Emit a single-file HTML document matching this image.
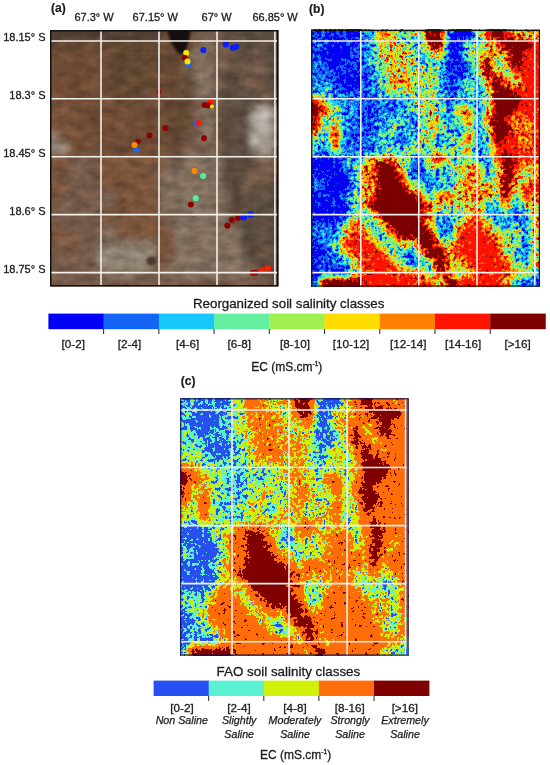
<!DOCTYPE html>
<html><head><meta charset="utf-8"><style>html,body{margin:0;padding:0;background:#fff;overflow:hidden}svg{display:block}</style></head>
<body><svg width="550" height="765" viewBox="0 0 550 765" font-family="Liberation Sans, Arial, sans-serif"><defs><clipPath id="clipA"><rect x="50" y="30" width="228.5" height="256.5"/></clipPath><filter id="blurA" x="-10%" y="-10%" width="120%" height="120%"><feGaussianBlur stdDeviation="3.5"/></filter><filter id="blurK" x="-50%" y="-50%" width="200%" height="200%"><feGaussianBlur stdDeviation="1.1"/></filter><filter id="texA" x="50" y="30" width="229" height="257" filterUnits="userSpaceOnUse" color-interpolation-filters="sRGB"><feTurbulence type="fractalNoise" baseFrequency="0.07 0.11" numOctaves="3" seed="11"/><feColorMatrix type="matrix" values="1 0 0 0 0 1 0 0 0 0 1 0 0 0 0 0 0 0 0 1"/></filter><filter id="fB" x="0" y="0" width="228.8" height="256.70000000000005" filterUnits="userSpaceOnUse" color-interpolation-filters="sRGB">
<feGaussianBlur in="SourceGraphic" stdDeviation="3.2" result="f"/>
<feColorMatrix in="f" type="matrix" values="1 0 0 0 0 1 0 0 0 0 1 0 0 0 0 0 0 0 0 1" result="V"/>
<feColorMatrix in="f" type="matrix" values="0 1 0 0 0 0 1 0 0 0 0 1 0 0 0 0 0 0 0 1" result="A"/>
<feTurbulence type="fractalNoise" baseFrequency="0.28" numOctaves="2" seed="4" result="t"/>
<feColorMatrix in="t" type="matrix" values="1 0 0 0 0 1 0 0 0 0 1 0 0 0 0 0 0 0 0 1" result="N"/>
<feComposite in="A" in2="N" operator="arithmetic" k1="1" k2="-0.5" k3="0" k4="0.5" result="P"/>
<feComposite in="V" in2="P" operator="arithmetic" k1="0" k2="1" k3="2.5" k4="-1.25" result="S"/>
<feComponentTransfer in="S"><feFuncR type="discrete" tableValues="0 0 0 0 0 0 0 0 0 0 0 0 0 0 0 0.078 0.078 0.078 0.078 0.078 0.078 0.078 0.078 0.078 0.078 0.078 0.078 0.078 0.078 0.078 0.078 0.078 0.078 0.078 0.078 0.392 0.392 0.392 0.392 0.392 0.392 0.392 0.392 0.392 0.392 0.627 0.627 0.627 0.627 0.627 0.627 0.627 0.627 0.627 0.627 1 1 1 1 1 1 1 1 1 1 1 1 1 1 1 1 1 1 1 1 1 1 1 1 1 1 1 1 1 1 0.49 0.49 0.49 0.49 0.49 0.49 0.49 0.49 0.49 0.49 0.49 0.49 0.49 0.49 0.49 0.49 0.49 0.49 0.49 0.49"/><feFuncG type="discrete" tableValues="0 0 0 0 0 0 0 0 0 0 0 0 0 0 0 0.392 0.392 0.392 0.392 0.392 0.392 0.392 0.392 0.392 0.392 0.784 0.784 0.784 0.784 0.784 0.784 0.784 0.784 0.784 0.784 0.941 0.941 0.941 0.941 0.941 0.941 0.941 0.941 0.941 0.941 0.941 0.941 0.941 0.941 0.941 0.941 0.941 0.941 0.941 0.941 0.863 0.863 0.863 0.863 0.863 0.863 0.863 0.863 0.863 0.863 0.502 0.502 0.502 0.502 0.502 0.502 0.502 0.502 0.502 0.502 0.078 0.078 0.078 0.078 0.078 0.078 0.078 0.078 0.078 0.078 0 0 0 0 0 0 0 0 0 0 0 0 0 0 0 0 0 0 0 0"/><feFuncB type="discrete" tableValues="0.961 0.961 0.961 0.961 0.961 0.961 0.961 0.961 0.961 0.961 0.961 0.961 0.961 0.961 0.961 0.961 0.961 0.961 0.961 0.961 0.961 0.961 0.961 0.961 0.961 0.98 0.98 0.98 0.98 0.98 0.98 0.98 0.98 0.98 0.98 0.627 0.627 0.627 0.627 0.627 0.627 0.627 0.627 0.627 0.627 0.314 0.314 0.314 0.314 0.314 0.314 0.314 0.314 0.314 0.314 0 0 0 0 0 0 0 0 0 0 0 0 0 0 0 0 0 0 0 0 0 0 0 0 0 0 0 0 0 0 0 0 0 0 0 0 0 0 0 0 0 0 0 0 0 0 0 0 0 0"/><feFuncA type="discrete" tableValues="1"/></feComponentTransfer>
</filter><filter id="fC" x="0" y="0" width="228.8" height="256.70000000000005" filterUnits="userSpaceOnUse" color-interpolation-filters="sRGB">
<feGaussianBlur in="SourceGraphic" stdDeviation="3.2" result="f"/>
<feColorMatrix in="f" type="matrix" values="1 0 0 0 0 1 0 0 0 0 1 0 0 0 0 0 0 0 0 1" result="V"/>
<feColorMatrix in="f" type="matrix" values="0 1 0 0 0 0 1 0 0 0 0 1 0 0 0 0 0 0 0 1" result="A"/>
<feTurbulence type="fractalNoise" baseFrequency="0.28" numOctaves="2" seed="4" result="t"/>
<feColorMatrix in="t" type="matrix" values="1 0 0 0 0 1 0 0 0 0 1 0 0 0 0 0 0 0 0 1" result="N"/>
<feComposite in="A" in2="N" operator="arithmetic" k1="1" k2="-0.5" k3="0" k4="0.5" result="P"/>
<feComposite in="V" in2="P" operator="arithmetic" k1="0" k2="1" k3="2.5" k4="-1.25" result="S"/>
<feComponentTransfer in="S"><feFuncR type="discrete" tableValues="0.157 0.157 0.157 0.157 0.157 0.157 0.157 0.157 0.157 0.157 0.157 0.157 0.157 0.157 0.157 0.353 0.353 0.353 0.353 0.353 0.353 0.353 0.353 0.353 0.353 0.824 0.824 0.824 0.824 0.824 0.824 0.824 0.824 0.824 0.824 0.824 0.824 0.824 0.824 0.824 0.824 0.824 0.824 0.824 0.824 1 1 1 1 1 1 1 1 1 1 1 1 1 1 1 1 1 1 1 1 1 1 1 1 1 1 1 1 1 1 1 1 1 1 1 1 1 1 1 1 0.502 0.502 0.502 0.502 0.502 0.502 0.502 0.502 0.502 0.502 0.502 0.502 0.502 0.502 0.502 0.502 0.502 0.502 0.502 0.502"/><feFuncG type="discrete" tableValues="0.314 0.314 0.314 0.314 0.314 0.314 0.314 0.314 0.314 0.314 0.314 0.314 0.314 0.314 0.314 0.941 0.941 0.941 0.941 0.941 0.941 0.941 0.941 0.941 0.941 0.941 0.941 0.941 0.941 0.941 0.941 0.941 0.941 0.941 0.941 0.941 0.941 0.941 0.941 0.941 0.941 0.941 0.941 0.941 0.941 0.431 0.431 0.431 0.431 0.431 0.431 0.431 0.431 0.431 0.431 0.431 0.431 0.431 0.431 0.431 0.431 0.431 0.431 0.431 0.431 0.431 0.431 0.431 0.431 0.431 0.431 0.431 0.431 0.431 0.431 0.431 0.431 0.431 0.431 0.431 0.431 0.431 0.431 0.431 0.431 0 0 0 0 0 0 0 0 0 0 0 0 0 0 0 0 0 0 0 0"/><feFuncB type="discrete" tableValues="0.941 0.941 0.941 0.941 0.941 0.941 0.941 0.941 0.941 0.941 0.941 0.941 0.941 0.941 0.941 0.824 0.824 0.824 0.824 0.824 0.824 0.824 0.824 0.824 0.824 0.039 0.039 0.039 0.039 0.039 0.039 0.039 0.039 0.039 0.039 0.039 0.039 0.039 0.039 0.039 0.039 0.039 0.039 0.039 0.039 0.039 0.039 0.039 0.039 0.039 0.039 0.039 0.039 0.039 0.039 0.039 0.039 0.039 0.039 0.039 0.039 0.039 0.039 0.039 0.039 0.039 0.039 0.039 0.039 0.039 0.039 0.039 0.039 0.039 0.039 0.039 0.039 0.039 0.039 0.039 0.039 0.039 0.039 0.039 0.039 0 0 0 0 0 0 0 0 0 0 0 0 0 0 0 0 0 0 0 0"/><feFuncA type="discrete" tableValues="1"/></feComponentTransfer>
</filter><g id="fld"><rect x="-14.00" y="-14.00" width="23.83" height="23.81" fill="#242b00"/><rect x="9.53" y="-14.00" width="9.83" height="23.81" fill="#242b00"/><rect x="19.07" y="-14.00" width="9.83" height="23.81" fill="#242b00"/><rect x="28.60" y="-14.00" width="9.83" height="23.81" fill="#242b00"/><rect x="38.13" y="-14.00" width="9.83" height="23.81" fill="#0f2800"/><rect x="47.67" y="-14.00" width="9.83" height="23.81" fill="#313400"/><rect x="57.20" y="-14.00" width="9.83" height="23.81" fill="#496700"/><rect x="66.73" y="-14.00" width="9.83" height="23.81" fill="#c12400"/><rect x="76.27" y="-14.00" width="9.83" height="23.81" fill="#927a00"/><rect x="85.80" y="-14.00" width="9.83" height="23.81" fill="#495d00"/><rect x="95.33" y="-14.00" width="9.83" height="23.81" fill="#797c00"/><rect x="104.87" y="-14.00" width="9.83" height="23.81" fill="#618000"/><rect x="114.40" y="-14.00" width="9.83" height="23.81" fill="#f33600"/><rect x="123.93" y="-14.00" width="9.83" height="23.81" fill="#f33f00"/><rect x="133.47" y="-14.00" width="9.83" height="23.81" fill="#244800"/><rect x="143.00" y="-14.00" width="9.83" height="23.81" fill="#0f2d00"/><rect x="152.53" y="-14.00" width="9.83" height="23.81" fill="#0f3100"/><rect x="162.07" y="-14.00" width="9.83" height="23.81" fill="#618000"/><rect x="171.60" y="-14.00" width="9.83" height="23.81" fill="#c12700"/><rect x="181.13" y="-14.00" width="9.83" height="23.81" fill="#f32900"/><rect x="190.67" y="-14.00" width="9.83" height="23.81" fill="#c11c00"/><rect x="200.20" y="-14.00" width="9.83" height="23.81" fill="#aa5d00"/><rect x="209.73" y="-14.00" width="9.83" height="23.81" fill="#927500"/><rect x="219.27" y="-14.00" width="23.83" height="23.81" fill="#aa5b00"/><rect x="-14.00" y="9.51" width="23.83" height="9.81" fill="#313000"/><rect x="9.53" y="9.51" width="9.83" height="9.81" fill="#242c00"/><rect x="19.07" y="9.51" width="9.83" height="9.81" fill="#0f2700"/><rect x="28.60" y="9.51" width="9.83" height="9.81" fill="#242c00"/><rect x="38.13" y="9.51" width="9.83" height="9.81" fill="#242d00"/><rect x="47.67" y="9.51" width="9.83" height="9.81" fill="#313300"/><rect x="57.20" y="9.51" width="9.83" height="9.81" fill="#496400"/><rect x="66.73" y="9.51" width="9.83" height="9.81" fill="#927a00"/><rect x="76.27" y="9.51" width="9.83" height="9.81" fill="#927700"/><rect x="85.80" y="9.51" width="9.83" height="9.81" fill="#797f00"/><rect x="95.33" y="9.51" width="9.83" height="9.81" fill="#495e00"/><rect x="104.87" y="9.51" width="9.83" height="9.81" fill="#496600"/><rect x="114.40" y="9.51" width="9.83" height="9.81" fill="#f33700"/><rect x="123.93" y="9.51" width="9.83" height="9.81" fill="#f33e00"/><rect x="133.47" y="9.51" width="9.83" height="9.81" fill="#0f4200"/><rect x="143.00" y="9.51" width="9.83" height="9.81" fill="#0f3100"/><rect x="152.53" y="9.51" width="9.83" height="9.81" fill="#617a00"/><rect x="162.07" y="9.51" width="9.83" height="9.81" fill="#496400"/><rect x="171.60" y="9.51" width="9.83" height="9.81" fill="#927b00"/><rect x="181.13" y="9.51" width="9.83" height="9.81" fill="#aa5b00"/><rect x="190.67" y="9.51" width="9.83" height="9.81" fill="#f32900"/><rect x="200.20" y="9.51" width="9.83" height="9.81" fill="#f32a00"/><rect x="209.73" y="9.51" width="9.83" height="9.81" fill="#f32900"/><rect x="219.27" y="9.51" width="23.83" height="9.81" fill="#c11c00"/><rect x="-14.00" y="19.01" width="23.83" height="9.81" fill="#242c00"/><rect x="9.53" y="19.01" width="9.83" height="9.81" fill="#0f2900"/><rect x="19.07" y="19.01" width="9.83" height="9.81" fill="#0f2700"/><rect x="28.60" y="19.01" width="9.83" height="9.81" fill="#0f2700"/><rect x="38.13" y="19.01" width="9.83" height="9.81" fill="#242c00"/><rect x="47.67" y="19.01" width="9.83" height="9.81" fill="#313300"/><rect x="57.20" y="19.01" width="9.83" height="9.81" fill="#496000"/><rect x="66.73" y="19.01" width="9.83" height="9.81" fill="#927700"/><rect x="76.27" y="19.01" width="9.83" height="9.81" fill="#927100"/><rect x="85.80" y="19.01" width="9.83" height="9.81" fill="#aa5c00"/><rect x="95.33" y="19.01" width="9.83" height="9.81" fill="#798000"/><rect x="104.87" y="19.01" width="9.83" height="9.81" fill="#496300"/><rect x="114.40" y="19.01" width="9.83" height="9.81" fill="#618000"/><rect x="123.93" y="19.01" width="9.83" height="9.81" fill="#aa6c00"/><rect x="133.47" y="19.01" width="9.83" height="9.81" fill="#244100"/><rect x="143.00" y="19.01" width="9.83" height="9.81" fill="#0f3100"/><rect x="152.53" y="19.01" width="9.83" height="9.81" fill="#798200"/><rect x="162.07" y="19.01" width="9.83" height="9.81" fill="#798500"/><rect x="171.60" y="19.01" width="9.83" height="9.81" fill="#aa6300"/><rect x="181.13" y="19.01" width="9.83" height="9.81" fill="#aa6100"/><rect x="190.67" y="19.01" width="9.83" height="9.81" fill="#aa6200"/><rect x="200.20" y="19.01" width="9.83" height="9.81" fill="#f32800"/><rect x="209.73" y="19.01" width="9.83" height="9.81" fill="#c11900"/><rect x="219.27" y="19.01" width="23.83" height="9.81" fill="#c11700"/><rect x="-14.00" y="28.52" width="23.83" height="9.81" fill="#313100"/><rect x="9.53" y="28.52" width="9.83" height="9.81" fill="#242d00"/><rect x="19.07" y="28.52" width="9.83" height="9.81" fill="#0f2800"/><rect x="28.60" y="28.52" width="9.83" height="9.81" fill="#242b00"/><rect x="38.13" y="28.52" width="9.83" height="9.81" fill="#242c00"/><rect x="47.67" y="28.52" width="9.83" height="9.81" fill="#313200"/><rect x="57.20" y="28.52" width="9.83" height="9.81" fill="#495f00"/><rect x="66.73" y="28.52" width="9.83" height="9.81" fill="#798100"/><rect x="76.27" y="28.52" width="9.83" height="9.81" fill="#927200"/><rect x="85.80" y="28.52" width="9.83" height="9.81" fill="#927100"/><rect x="95.33" y="28.52" width="9.83" height="9.81" fill="#797f00"/><rect x="104.87" y="28.52" width="9.83" height="9.81" fill="#495c00"/><rect x="114.40" y="28.52" width="9.83" height="9.81" fill="#495f00"/><rect x="123.93" y="28.52" width="9.83" height="9.81" fill="#617c00"/><rect x="133.47" y="28.52" width="9.83" height="9.81" fill="#0f3500"/><rect x="143.00" y="28.52" width="9.83" height="9.81" fill="#243300"/><rect x="152.53" y="28.52" width="9.83" height="9.81" fill="#313c00"/><rect x="162.07" y="28.52" width="9.83" height="9.81" fill="#798900"/><rect x="171.60" y="28.52" width="9.83" height="9.81" fill="#f33200"/><rect x="181.13" y="28.52" width="9.83" height="9.81" fill="#496300"/><rect x="190.67" y="28.52" width="9.83" height="9.81" fill="#aa6300"/><rect x="200.20" y="28.52" width="9.83" height="9.81" fill="#f32d00"/><rect x="209.73" y="28.52" width="9.83" height="9.81" fill="#c11800"/><rect x="219.27" y="28.52" width="23.83" height="9.81" fill="#c11500"/><rect x="-14.00" y="38.03" width="23.83" height="9.81" fill="#313000"/><rect x="9.53" y="38.03" width="9.83" height="9.81" fill="#313100"/><rect x="19.07" y="38.03" width="9.83" height="9.81" fill="#242d00"/><rect x="28.60" y="38.03" width="9.83" height="9.81" fill="#242b00"/><rect x="38.13" y="38.03" width="9.83" height="9.81" fill="#242c00"/><rect x="47.67" y="38.03" width="9.83" height="9.81" fill="#242e00"/><rect x="57.20" y="38.03" width="9.83" height="9.81" fill="#313700"/><rect x="66.73" y="38.03" width="9.83" height="9.81" fill="#617900"/><rect x="76.27" y="38.03" width="9.83" height="9.81" fill="#927500"/><rect x="85.80" y="38.03" width="9.83" height="9.81" fill="#927100"/><rect x="95.33" y="38.03" width="9.83" height="9.81" fill="#797d00"/><rect x="104.87" y="38.03" width="9.83" height="9.81" fill="#797d00"/><rect x="114.40" y="38.03" width="9.83" height="9.81" fill="#927500"/><rect x="123.93" y="38.03" width="9.83" height="9.81" fill="#496000"/><rect x="133.47" y="38.03" width="9.83" height="9.81" fill="#243200"/><rect x="143.00" y="38.03" width="9.83" height="9.81" fill="#0f2c00"/><rect x="152.53" y="38.03" width="9.83" height="9.81" fill="#313800"/><rect x="162.07" y="38.03" width="9.83" height="9.81" fill="#618200"/><rect x="171.60" y="38.03" width="9.83" height="9.81" fill="#f33600"/><rect x="181.13" y="38.03" width="9.83" height="9.81" fill="#aa6400"/><rect x="190.67" y="38.03" width="9.83" height="9.81" fill="#617c00"/><rect x="200.20" y="38.03" width="9.83" height="9.81" fill="#c12000"/><rect x="209.73" y="38.03" width="9.83" height="9.81" fill="#c11b00"/><rect x="219.27" y="38.03" width="23.83" height="9.81" fill="#c11500"/><rect x="-14.00" y="47.54" width="23.83" height="9.81" fill="#313100"/><rect x="9.53" y="47.54" width="9.83" height="9.81" fill="#3d4400"/><rect x="19.07" y="47.54" width="9.83" height="9.81" fill="#242f00"/><rect x="28.60" y="47.54" width="9.83" height="9.81" fill="#0f2900"/><rect x="38.13" y="47.54" width="9.83" height="9.81" fill="#0f2800"/><rect x="47.67" y="47.54" width="9.83" height="9.81" fill="#242d00"/><rect x="57.20" y="47.54" width="9.83" height="9.81" fill="#3d4800"/><rect x="66.73" y="47.54" width="9.83" height="9.81" fill="#617a00"/><rect x="76.27" y="47.54" width="9.83" height="9.81" fill="#aa5e00"/><rect x="85.80" y="47.54" width="9.83" height="9.81" fill="#aa5a00"/><rect x="95.33" y="47.54" width="9.83" height="9.81" fill="#927300"/><rect x="104.87" y="47.54" width="9.83" height="9.81" fill="#797900"/><rect x="114.40" y="47.54" width="9.83" height="9.81" fill="#797e00"/><rect x="123.93" y="47.54" width="9.83" height="9.81" fill="#496200"/><rect x="133.47" y="47.54" width="9.83" height="9.81" fill="#243000"/><rect x="143.00" y="47.54" width="9.83" height="9.81" fill="#313800"/><rect x="152.53" y="47.54" width="9.83" height="9.81" fill="#617600"/><rect x="162.07" y="47.54" width="9.83" height="9.81" fill="#314000"/><rect x="171.60" y="47.54" width="9.83" height="9.81" fill="#aa6a00"/><rect x="181.13" y="47.54" width="9.83" height="9.81" fill="#f33000"/><rect x="190.67" y="47.54" width="9.83" height="9.81" fill="#aa6000"/><rect x="200.20" y="47.54" width="9.83" height="9.81" fill="#927800"/><rect x="209.73" y="47.54" width="9.83" height="9.81" fill="#c11a00"/><rect x="219.27" y="47.54" width="23.83" height="9.81" fill="#c11500"/><rect x="-14.00" y="57.04" width="23.83" height="9.81" fill="#3d5500"/><rect x="9.53" y="57.04" width="9.83" height="9.81" fill="#496400"/><rect x="19.07" y="57.04" width="9.83" height="9.81" fill="#3d4900"/><rect x="28.60" y="57.04" width="9.83" height="9.81" fill="#242e00"/><rect x="38.13" y="57.04" width="9.83" height="9.81" fill="#242e00"/><rect x="47.67" y="57.04" width="9.83" height="9.81" fill="#313200"/><rect x="57.20" y="57.04" width="9.83" height="9.81" fill="#313400"/><rect x="66.73" y="57.04" width="9.83" height="9.81" fill="#496100"/><rect x="76.27" y="57.04" width="9.83" height="9.81" fill="#798400"/><rect x="85.80" y="57.04" width="9.83" height="9.81" fill="#798300"/><rect x="95.33" y="57.04" width="9.83" height="9.81" fill="#797e00"/><rect x="104.87" y="57.04" width="9.83" height="9.81" fill="#617200"/><rect x="114.40" y="57.04" width="9.83" height="9.81" fill="#927400"/><rect x="123.93" y="57.04" width="9.83" height="9.81" fill="#496000"/><rect x="133.47" y="57.04" width="9.83" height="9.81" fill="#242e00"/><rect x="143.00" y="57.04" width="9.83" height="9.81" fill="#313700"/><rect x="152.53" y="57.04" width="9.83" height="9.81" fill="#797d00"/><rect x="162.07" y="57.04" width="9.83" height="9.81" fill="#313b00"/><rect x="171.60" y="57.04" width="9.83" height="9.81" fill="#798c00"/><rect x="181.13" y="57.04" width="9.83" height="9.81" fill="#f32f00"/><rect x="190.67" y="57.04" width="9.83" height="9.81" fill="#f32a00"/><rect x="200.20" y="57.04" width="9.83" height="9.81" fill="#c11d00"/><rect x="209.73" y="57.04" width="9.83" height="9.81" fill="#c11b00"/><rect x="219.27" y="57.04" width="23.83" height="9.81" fill="#c11500"/><rect x="-14.00" y="66.55" width="23.83" height="9.81" fill="#ce3200"/><rect x="9.53" y="66.55" width="9.83" height="9.81" fill="#798b00"/><rect x="19.07" y="66.55" width="9.83" height="9.81" fill="#313f00"/><rect x="28.60" y="66.55" width="9.83" height="9.81" fill="#3d4900"/><rect x="38.13" y="66.55" width="9.83" height="9.81" fill="#3d4400"/><rect x="47.67" y="66.55" width="9.83" height="9.81" fill="#313100"/><rect x="57.20" y="66.55" width="9.83" height="9.81" fill="#242e00"/><rect x="66.73" y="66.55" width="9.83" height="9.81" fill="#3d4900"/><rect x="76.27" y="66.55" width="9.83" height="9.81" fill="#243400"/><rect x="85.80" y="66.55" width="9.83" height="9.81" fill="#3d4c00"/><rect x="95.33" y="66.55" width="9.83" height="9.81" fill="#617400"/><rect x="104.87" y="66.55" width="9.83" height="9.81" fill="#617400"/><rect x="114.40" y="66.55" width="9.83" height="9.81" fill="#797d00"/><rect x="123.93" y="66.55" width="9.83" height="9.81" fill="#496100"/><rect x="133.47" y="66.55" width="9.83" height="9.81" fill="#313b00"/><rect x="143.00" y="66.55" width="9.83" height="9.81" fill="#313f00"/><rect x="152.53" y="66.55" width="9.83" height="9.81" fill="#496400"/><rect x="162.07" y="66.55" width="9.83" height="9.81" fill="#313c00"/><rect x="171.60" y="66.55" width="9.83" height="9.81" fill="#798c00"/><rect x="181.13" y="66.55" width="9.83" height="9.81" fill="#f33100"/><rect x="190.67" y="66.55" width="9.83" height="9.81" fill="#f32500"/><rect x="200.20" y="66.55" width="9.83" height="9.81" fill="#f32500"/><rect x="209.73" y="66.55" width="9.83" height="9.81" fill="#c11700"/><rect x="219.27" y="66.55" width="23.83" height="9.81" fill="#c11500"/><rect x="-14.00" y="76.06" width="23.83" height="9.81" fill="#f33200"/><rect x="9.53" y="76.06" width="9.83" height="9.81" fill="#ce3000"/><rect x="19.07" y="76.06" width="9.83" height="9.81" fill="#798500"/><rect x="28.60" y="76.06" width="9.83" height="9.81" fill="#313700"/><rect x="38.13" y="76.06" width="9.83" height="9.81" fill="#3d4400"/><rect x="47.67" y="76.06" width="9.83" height="9.81" fill="#242d00"/><rect x="57.20" y="76.06" width="9.83" height="9.81" fill="#242d00"/><rect x="66.73" y="76.06" width="9.83" height="9.81" fill="#3d4500"/><rect x="76.27" y="76.06" width="9.83" height="9.81" fill="#242f00"/><rect x="85.80" y="76.06" width="9.83" height="9.81" fill="#3d4800"/><rect x="95.33" y="76.06" width="9.83" height="9.81" fill="#495b00"/><rect x="104.87" y="76.06" width="9.83" height="9.81" fill="#798000"/><rect x="114.40" y="76.06" width="9.83" height="9.81" fill="#927500"/><rect x="123.93" y="76.06" width="9.83" height="9.81" fill="#617900"/><rect x="133.47" y="76.06" width="9.83" height="9.81" fill="#313b00"/><rect x="143.00" y="76.06" width="9.83" height="9.81" fill="#aa6700"/><rect x="152.53" y="76.06" width="9.83" height="9.81" fill="#aa6700"/><rect x="162.07" y="76.06" width="9.83" height="9.81" fill="#314200"/><rect x="171.60" y="76.06" width="9.83" height="9.81" fill="#798d00"/><rect x="181.13" y="76.06" width="9.83" height="9.81" fill="#f32e00"/><rect x="190.67" y="76.06" width="9.83" height="9.81" fill="#f32700"/><rect x="200.20" y="76.06" width="9.83" height="9.81" fill="#c11b00"/><rect x="209.73" y="76.06" width="9.83" height="9.81" fill="#c11900"/><rect x="219.27" y="76.06" width="23.83" height="9.81" fill="#c11700"/><rect x="-14.00" y="85.57" width="23.83" height="9.81" fill="#ce2f00"/><rect x="9.53" y="85.57" width="9.83" height="9.81" fill="#496700"/><rect x="19.07" y="85.57" width="9.83" height="9.81" fill="#798800"/><rect x="28.60" y="85.57" width="9.83" height="9.81" fill="#3d5200"/><rect x="38.13" y="85.57" width="9.83" height="9.81" fill="#313100"/><rect x="47.67" y="85.57" width="9.83" height="9.81" fill="#242c00"/><rect x="57.20" y="85.57" width="9.83" height="9.81" fill="#313100"/><rect x="66.73" y="85.57" width="9.83" height="9.81" fill="#3d4900"/><rect x="76.27" y="85.57" width="9.83" height="9.81" fill="#495b00"/><rect x="85.80" y="85.57" width="9.83" height="9.81" fill="#617500"/><rect x="95.33" y="85.57" width="9.83" height="9.81" fill="#243200"/><rect x="104.87" y="85.57" width="9.83" height="9.81" fill="#496000"/><rect x="114.40" y="85.57" width="9.83" height="9.81" fill="#927400"/><rect x="123.93" y="85.57" width="9.83" height="9.81" fill="#798100"/><rect x="133.47" y="85.57" width="9.83" height="9.81" fill="#313b00"/><rect x="143.00" y="85.57" width="9.83" height="9.81" fill="#617f00"/><rect x="152.53" y="85.57" width="9.83" height="9.81" fill="#c12900"/><rect x="162.07" y="85.57" width="9.83" height="9.81" fill="#314100"/><rect x="171.60" y="85.57" width="9.83" height="9.81" fill="#c12e00"/><rect x="181.13" y="85.57" width="9.83" height="9.81" fill="#f32e00"/><rect x="190.67" y="85.57" width="9.83" height="9.81" fill="#c11c00"/><rect x="200.20" y="85.57" width="9.83" height="9.81" fill="#aa5a00"/><rect x="209.73" y="85.57" width="9.83" height="9.81" fill="#aa5700"/><rect x="219.27" y="85.57" width="23.83" height="9.81" fill="#c11800"/><rect x="-14.00" y="95.07" width="23.83" height="9.81" fill="#ce3100"/><rect x="9.53" y="95.07" width="9.83" height="9.81" fill="#496800"/><rect x="19.07" y="95.07" width="9.83" height="9.81" fill="#ce2f00"/><rect x="28.60" y="95.07" width="9.83" height="9.81" fill="#3d5600"/><rect x="38.13" y="95.07" width="9.83" height="9.81" fill="#313100"/><rect x="47.67" y="95.07" width="9.83" height="9.81" fill="#242c00"/><rect x="57.20" y="95.07" width="9.83" height="9.81" fill="#243000"/><rect x="66.73" y="95.07" width="9.83" height="9.81" fill="#3d4900"/><rect x="76.27" y="95.07" width="9.83" height="9.81" fill="#797d00"/><rect x="85.80" y="95.07" width="9.83" height="9.81" fill="#3d4900"/><rect x="95.33" y="95.07" width="9.83" height="9.81" fill="#495c00"/><rect x="104.87" y="95.07" width="9.83" height="9.81" fill="#617800"/><rect x="114.40" y="95.07" width="9.83" height="9.81" fill="#927600"/><rect x="123.93" y="95.07" width="9.83" height="9.81" fill="#798000"/><rect x="133.47" y="95.07" width="9.83" height="9.81" fill="#495d00"/><rect x="143.00" y="95.07" width="9.83" height="9.81" fill="#314000"/><rect x="152.53" y="95.07" width="9.83" height="9.81" fill="#928000"/><rect x="162.07" y="95.07" width="9.83" height="9.81" fill="#314200"/><rect x="171.60" y="95.07" width="9.83" height="9.81" fill="#798d00"/><rect x="181.13" y="95.07" width="9.83" height="9.81" fill="#f33000"/><rect x="190.67" y="95.07" width="9.83" height="9.81" fill="#f32800"/><rect x="200.20" y="95.07" width="9.83" height="9.81" fill="#aa5900"/><rect x="209.73" y="95.07" width="9.83" height="9.81" fill="#aa5700"/><rect x="219.27" y="95.07" width="23.83" height="9.81" fill="#c11900"/><rect x="-14.00" y="104.58" width="23.83" height="9.81" fill="#617f00"/><rect x="9.53" y="104.58" width="9.83" height="9.81" fill="#3d5600"/><rect x="19.07" y="104.58" width="9.83" height="9.81" fill="#ce3200"/><rect x="28.60" y="104.58" width="9.83" height="9.81" fill="#314500"/><rect x="38.13" y="104.58" width="9.83" height="9.81" fill="#242c00"/><rect x="47.67" y="104.58" width="9.83" height="9.81" fill="#313100"/><rect x="57.20" y="104.58" width="9.83" height="9.81" fill="#3d4700"/><rect x="66.73" y="104.58" width="9.83" height="9.81" fill="#617500"/><rect x="76.27" y="104.58" width="9.83" height="9.81" fill="#3d4900"/><rect x="85.80" y="104.58" width="9.83" height="9.81" fill="#243300"/><rect x="95.33" y="104.58" width="9.83" height="9.81" fill="#3d4a00"/><rect x="104.87" y="104.58" width="9.83" height="9.81" fill="#797d00"/><rect x="114.40" y="104.58" width="9.83" height="9.81" fill="#797e00"/><rect x="123.93" y="104.58" width="9.83" height="9.81" fill="#313700"/><rect x="133.47" y="104.58" width="9.83" height="9.81" fill="#617500"/><rect x="143.00" y="104.58" width="9.83" height="9.81" fill="#496200"/><rect x="152.53" y="104.58" width="9.83" height="9.81" fill="#c12700"/><rect x="162.07" y="104.58" width="9.83" height="9.81" fill="#313f00"/><rect x="171.60" y="104.58" width="9.83" height="9.81" fill="#618400"/><rect x="181.13" y="104.58" width="9.83" height="9.81" fill="#f33400"/><rect x="190.67" y="104.58" width="9.83" height="9.81" fill="#c11a00"/><rect x="200.20" y="104.58" width="9.83" height="9.81" fill="#c11a00"/><rect x="209.73" y="104.58" width="9.83" height="9.81" fill="#aa5700"/><rect x="219.27" y="104.58" width="23.83" height="9.81" fill="#c11900"/><rect x="-14.00" y="114.09" width="23.83" height="9.81" fill="#617600"/><rect x="9.53" y="114.09" width="9.83" height="9.81" fill="#314200"/><rect x="19.07" y="114.09" width="9.83" height="9.81" fill="#aa6800"/><rect x="28.60" y="114.09" width="9.83" height="9.81" fill="#314200"/><rect x="38.13" y="114.09" width="9.83" height="9.81" fill="#313200"/><rect x="47.67" y="114.09" width="9.83" height="9.81" fill="#243500"/><rect x="57.20" y="114.09" width="9.83" height="9.81" fill="#243900"/><rect x="66.73" y="114.09" width="9.83" height="9.81" fill="#3d5100"/><rect x="76.27" y="114.09" width="9.83" height="9.81" fill="#617c00"/><rect x="85.80" y="114.09" width="9.83" height="9.81" fill="#3d4e00"/><rect x="95.33" y="114.09" width="9.83" height="9.81" fill="#797f00"/><rect x="104.87" y="114.09" width="9.83" height="9.81" fill="#617800"/><rect x="114.40" y="114.09" width="9.83" height="9.81" fill="#617e00"/><rect x="123.93" y="114.09" width="9.83" height="9.81" fill="#496400"/><rect x="133.47" y="114.09" width="9.83" height="9.81" fill="#617c00"/><rect x="143.00" y="114.09" width="9.83" height="9.81" fill="#798100"/><rect x="152.53" y="114.09" width="9.83" height="9.81" fill="#927c00"/><rect x="162.07" y="114.09" width="9.83" height="9.81" fill="#313e00"/><rect x="171.60" y="114.09" width="9.83" height="9.81" fill="#496a00"/><rect x="181.13" y="114.09" width="9.83" height="9.81" fill="#c12a00"/><rect x="190.67" y="114.09" width="9.83" height="9.81" fill="#c11800"/><rect x="200.20" y="114.09" width="9.83" height="9.81" fill="#c11900"/><rect x="209.73" y="114.09" width="9.83" height="9.81" fill="#aa5600"/><rect x="219.27" y="114.09" width="23.83" height="9.81" fill="#c11800"/><rect x="-14.00" y="123.60" width="23.83" height="9.81" fill="#243300"/><rect x="9.53" y="123.60" width="9.83" height="9.81" fill="#0f3500"/><rect x="19.07" y="123.60" width="9.83" height="9.81" fill="#243800"/><rect x="28.60" y="123.60" width="9.83" height="9.81" fill="#3d4e00"/><rect x="38.13" y="123.60" width="9.83" height="9.81" fill="#496000"/><rect x="47.67" y="123.60" width="9.83" height="9.81" fill="#496600"/><rect x="57.20" y="123.60" width="9.83" height="9.81" fill="#928300"/><rect x="66.73" y="123.60" width="9.83" height="9.81" fill="#aa6900"/><rect x="76.27" y="123.60" width="9.83" height="9.81" fill="#aa6600"/><rect x="85.80" y="123.60" width="9.83" height="9.81" fill="#798600"/><rect x="95.33" y="123.60" width="9.83" height="9.81" fill="#496000"/><rect x="104.87" y="123.60" width="9.83" height="9.81" fill="#313d00"/><rect x="114.40" y="123.60" width="9.83" height="9.81" fill="#aa6700"/><rect x="123.93" y="123.60" width="9.83" height="9.81" fill="#f33100"/><rect x="133.47" y="123.60" width="9.83" height="9.81" fill="#617b00"/><rect x="143.00" y="123.60" width="9.83" height="9.81" fill="#495c00"/><rect x="152.53" y="123.60" width="9.83" height="9.81" fill="#798200"/><rect x="162.07" y="123.60" width="9.83" height="9.81" fill="#496400"/><rect x="171.60" y="123.60" width="9.83" height="9.81" fill="#314200"/><rect x="181.13" y="123.60" width="9.83" height="9.81" fill="#c12c00"/><rect x="190.67" y="123.60" width="9.83" height="9.81" fill="#f32a00"/><rect x="200.20" y="123.60" width="9.83" height="9.81" fill="#c11c00"/><rect x="209.73" y="123.60" width="9.83" height="9.81" fill="#c11a00"/><rect x="219.27" y="123.60" width="23.83" height="9.81" fill="#c11a00"/><rect x="-14.00" y="133.10" width="23.83" height="9.81" fill="#0f2700"/><rect x="9.53" y="133.10" width="9.83" height="9.81" fill="#0f2700"/><rect x="19.07" y="133.10" width="9.83" height="9.81" fill="#0f2a00"/><rect x="28.60" y="133.10" width="9.83" height="9.81" fill="#313400"/><rect x="38.13" y="133.10" width="9.83" height="9.81" fill="#496400"/><rect x="47.67" y="133.10" width="9.83" height="9.81" fill="#aa6500"/><rect x="57.20" y="133.10" width="9.83" height="9.81" fill="#c12300"/><rect x="66.73" y="133.10" width="9.83" height="9.81" fill="#f32a00"/><rect x="76.27" y="133.10" width="9.83" height="9.81" fill="#f32d00"/><rect x="85.80" y="133.10" width="9.83" height="9.81" fill="#928200"/><rect x="95.33" y="133.10" width="9.83" height="9.81" fill="#314000"/><rect x="104.87" y="133.10" width="9.83" height="9.81" fill="#0f3600"/><rect x="114.40" y="133.10" width="9.83" height="9.81" fill="#928200"/><rect x="123.93" y="133.10" width="9.83" height="9.81" fill="#496500"/><rect x="133.47" y="133.10" width="9.83" height="9.81" fill="#617b00"/><rect x="143.00" y="133.10" width="9.83" height="9.81" fill="#798000"/><rect x="152.53" y="133.10" width="9.83" height="9.81" fill="#aa6000"/><rect x="162.07" y="133.10" width="9.83" height="9.81" fill="#aa6600"/><rect x="171.60" y="133.10" width="9.83" height="9.81" fill="#314100"/><rect x="181.13" y="133.10" width="9.83" height="9.81" fill="#798d00"/><rect x="190.67" y="133.10" width="9.83" height="9.81" fill="#f32c00"/><rect x="200.20" y="133.10" width="9.83" height="9.81" fill="#c12200"/><rect x="209.73" y="133.10" width="9.83" height="9.81" fill="#927600"/><rect x="219.27" y="133.10" width="23.83" height="9.81" fill="#aa5d00"/><rect x="-14.00" y="142.61" width="23.83" height="9.81" fill="#242d00"/><rect x="9.53" y="142.61" width="9.83" height="9.81" fill="#242c00"/><rect x="19.07" y="142.61" width="9.83" height="9.81" fill="#0f2800"/><rect x="28.60" y="142.61" width="9.83" height="9.81" fill="#0f2b00"/><rect x="38.13" y="142.61" width="9.83" height="9.81" fill="#3d5400"/><rect x="47.67" y="142.61" width="9.83" height="9.81" fill="#aa6500"/><rect x="57.20" y="142.61" width="9.83" height="9.81" fill="#aa5c00"/><rect x="66.73" y="142.61" width="9.83" height="9.81" fill="#f32800"/><rect x="76.27" y="142.61" width="9.83" height="9.81" fill="#f32900"/><rect x="85.80" y="142.61" width="9.83" height="9.81" fill="#c12c00"/><rect x="95.33" y="142.61" width="9.83" height="9.81" fill="#314500"/><rect x="104.87" y="142.61" width="9.83" height="9.81" fill="#313c00"/><rect x="114.40" y="142.61" width="9.83" height="9.81" fill="#313900"/><rect x="123.93" y="142.61" width="9.83" height="9.81" fill="#495c00"/><rect x="133.47" y="142.61" width="9.83" height="9.81" fill="#495c00"/><rect x="143.00" y="142.61" width="9.83" height="9.81" fill="#798100"/><rect x="152.53" y="142.61" width="9.83" height="9.81" fill="#aa5a00"/><rect x="162.07" y="142.61" width="9.83" height="9.81" fill="#aa6400"/><rect x="171.60" y="142.61" width="9.83" height="9.81" fill="#313e00"/><rect x="181.13" y="142.61" width="9.83" height="9.81" fill="#928200"/><rect x="190.67" y="142.61" width="9.83" height="9.81" fill="#f32d00"/><rect x="200.20" y="142.61" width="9.83" height="9.81" fill="#aa6100"/><rect x="209.73" y="142.61" width="9.83" height="9.81" fill="#617600"/><rect x="219.27" y="142.61" width="23.83" height="9.81" fill="#aa5d00"/><rect x="-14.00" y="152.12" width="23.83" height="9.81" fill="#313000"/><rect x="9.53" y="152.12" width="9.83" height="9.81" fill="#242c00"/><rect x="19.07" y="152.12" width="9.83" height="9.81" fill="#0f2800"/><rect x="28.60" y="152.12" width="9.83" height="9.81" fill="#0f2d00"/><rect x="38.13" y="152.12" width="9.83" height="9.81" fill="#314000"/><rect x="47.67" y="152.12" width="9.83" height="9.81" fill="#927d00"/><rect x="57.20" y="152.12" width="9.83" height="9.81" fill="#aa5d00"/><rect x="66.73" y="152.12" width="9.83" height="9.81" fill="#f32800"/><rect x="76.27" y="152.12" width="9.83" height="9.81" fill="#f32400"/><rect x="85.80" y="152.12" width="9.83" height="9.81" fill="#f33400"/><rect x="95.33" y="152.12" width="9.83" height="9.81" fill="#928300"/><rect x="104.87" y="152.12" width="9.83" height="9.81" fill="#618200"/><rect x="114.40" y="152.12" width="9.83" height="9.81" fill="#314100"/><rect x="123.93" y="152.12" width="9.83" height="9.81" fill="#496600"/><rect x="133.47" y="152.12" width="9.83" height="9.81" fill="#496400"/><rect x="143.00" y="152.12" width="9.83" height="9.81" fill="#927a00"/><rect x="152.53" y="152.12" width="9.83" height="9.81" fill="#aa5900"/><rect x="162.07" y="152.12" width="9.83" height="9.81" fill="#aa6000"/><rect x="171.60" y="152.12" width="9.83" height="9.81" fill="#aa6000"/><rect x="181.13" y="152.12" width="9.83" height="9.81" fill="#927e00"/><rect x="190.67" y="152.12" width="9.83" height="9.81" fill="#f33100"/><rect x="200.20" y="152.12" width="9.83" height="9.81" fill="#927d00"/><rect x="209.73" y="152.12" width="9.83" height="9.81" fill="#c12300"/><rect x="219.27" y="152.12" width="23.83" height="9.81" fill="#c11f00"/><rect x="-14.00" y="161.63" width="23.83" height="9.81" fill="#0f2800"/><rect x="9.53" y="161.63" width="9.83" height="9.81" fill="#242c00"/><rect x="19.07" y="161.63" width="9.83" height="9.81" fill="#0f2800"/><rect x="28.60" y="161.63" width="9.83" height="9.81" fill="#313600"/><rect x="38.13" y="161.63" width="9.83" height="9.81" fill="#617d00"/><rect x="47.67" y="161.63" width="9.83" height="9.81" fill="#927e00"/><rect x="57.20" y="161.63" width="9.83" height="9.81" fill="#c12000"/><rect x="66.73" y="161.63" width="9.83" height="9.81" fill="#f32700"/><rect x="76.27" y="161.63" width="9.83" height="9.81" fill="#f32100"/><rect x="85.80" y="161.63" width="9.83" height="9.81" fill="#f32900"/><rect x="95.33" y="161.63" width="9.83" height="9.81" fill="#f32f00"/><rect x="104.87" y="161.63" width="9.83" height="9.81" fill="#c12a00"/><rect x="114.40" y="161.63" width="9.83" height="9.81" fill="#496700"/><rect x="123.93" y="161.63" width="9.83" height="9.81" fill="#c12700"/><rect x="133.47" y="161.63" width="9.83" height="9.81" fill="#c12300"/><rect x="143.00" y="161.63" width="9.83" height="9.81" fill="#927700"/><rect x="152.53" y="161.63" width="9.83" height="9.81" fill="#aa5900"/><rect x="162.07" y="161.63" width="9.83" height="9.81" fill="#aa6000"/><rect x="171.60" y="161.63" width="9.83" height="9.81" fill="#aa6200"/><rect x="181.13" y="161.63" width="9.83" height="9.81" fill="#798700"/><rect x="190.67" y="161.63" width="9.83" height="9.81" fill="#f33500"/><rect x="200.20" y="161.63" width="9.83" height="9.81" fill="#496700"/><rect x="209.73" y="161.63" width="9.83" height="9.81" fill="#c12600"/><rect x="219.27" y="161.63" width="23.83" height="9.81" fill="#aa5900"/><rect x="-14.00" y="171.13" width="23.83" height="9.81" fill="#242b00"/><rect x="9.53" y="171.13" width="9.83" height="9.81" fill="#0f2700"/><rect x="19.07" y="171.13" width="9.83" height="9.81" fill="#242c00"/><rect x="28.60" y="171.13" width="9.83" height="9.81" fill="#0f3100"/><rect x="38.13" y="171.13" width="9.83" height="9.81" fill="#496200"/><rect x="47.67" y="171.13" width="9.83" height="9.81" fill="#927c00"/><rect x="57.20" y="171.13" width="9.83" height="9.81" fill="#f33200"/><rect x="66.73" y="171.13" width="9.83" height="9.81" fill="#f32c00"/><rect x="76.27" y="171.13" width="9.83" height="9.81" fill="#f32100"/><rect x="85.80" y="171.13" width="9.83" height="9.81" fill="#f32100"/><rect x="95.33" y="171.13" width="9.83" height="9.81" fill="#f32500"/><rect x="104.87" y="171.13" width="9.83" height="9.81" fill="#f33000"/><rect x="114.40" y="171.13" width="9.83" height="9.81" fill="#aa6600"/><rect x="123.93" y="171.13" width="9.83" height="9.81" fill="#927e00"/><rect x="133.47" y="171.13" width="9.83" height="9.81" fill="#798400"/><rect x="143.00" y="171.13" width="9.83" height="9.81" fill="#798000"/><rect x="152.53" y="171.13" width="9.83" height="9.81" fill="#927500"/><rect x="162.07" y="171.13" width="9.83" height="9.81" fill="#aa6300"/><rect x="171.60" y="171.13" width="9.83" height="9.81" fill="#314100"/><rect x="181.13" y="171.13" width="9.83" height="9.81" fill="#496700"/><rect x="190.67" y="171.13" width="9.83" height="9.81" fill="#aa6800"/><rect x="200.20" y="171.13" width="9.83" height="9.81" fill="#314500"/><rect x="209.73" y="171.13" width="9.83" height="9.81" fill="#928100"/><rect x="219.27" y="171.13" width="23.83" height="9.81" fill="#aa6000"/><rect x="-14.00" y="180.64" width="23.83" height="9.81" fill="#0f2900"/><rect x="9.53" y="180.64" width="9.83" height="9.81" fill="#0f2800"/><rect x="19.07" y="180.64" width="9.83" height="9.81" fill="#0f2d00"/><rect x="28.60" y="180.64" width="9.83" height="9.81" fill="#0f3800"/><rect x="38.13" y="180.64" width="9.83" height="9.81" fill="#798700"/><rect x="47.67" y="180.64" width="9.83" height="9.81" fill="#496400"/><rect x="57.20" y="180.64" width="9.83" height="9.81" fill="#798700"/><rect x="66.73" y="180.64" width="9.83" height="9.81" fill="#f33300"/><rect x="76.27" y="180.64" width="9.83" height="9.81" fill="#f32600"/><rect x="85.80" y="180.64" width="9.83" height="9.81" fill="#f32100"/><rect x="95.33" y="180.64" width="9.83" height="9.81" fill="#f32400"/><rect x="104.87" y="180.64" width="9.83" height="9.81" fill="#c11e00"/><rect x="114.40" y="180.64" width="9.83" height="9.81" fill="#aa6800"/><rect x="123.93" y="180.64" width="9.83" height="9.81" fill="#313f00"/><rect x="133.47" y="180.64" width="9.83" height="9.81" fill="#496000"/><rect x="143.00" y="180.64" width="9.83" height="9.81" fill="#617a00"/><rect x="152.53" y="180.64" width="9.83" height="9.81" fill="#927700"/><rect x="162.07" y="180.64" width="9.83" height="9.81" fill="#c12600"/><rect x="171.60" y="180.64" width="9.83" height="9.81" fill="#496800"/><rect x="181.13" y="180.64" width="9.83" height="9.81" fill="#313d00"/><rect x="190.67" y="180.64" width="9.83" height="9.81" fill="#496100"/><rect x="200.20" y="180.64" width="9.83" height="9.81" fill="#0f3500"/><rect x="209.73" y="180.64" width="9.83" height="9.81" fill="#314100"/><rect x="219.27" y="180.64" width="23.83" height="9.81" fill="#927c00"/><rect x="-14.00" y="190.15" width="23.83" height="9.81" fill="#313200"/><rect x="9.53" y="190.15" width="9.83" height="9.81" fill="#242e00"/><rect x="19.07" y="190.15" width="9.83" height="9.81" fill="#243700"/><rect x="28.60" y="190.15" width="9.83" height="9.81" fill="#618200"/><rect x="38.13" y="190.15" width="9.83" height="9.81" fill="#c12800"/><rect x="47.67" y="190.15" width="9.83" height="9.81" fill="#927c00"/><rect x="57.20" y="190.15" width="9.83" height="9.81" fill="#496500"/><rect x="66.73" y="190.15" width="9.83" height="9.81" fill="#aa6700"/><rect x="76.27" y="190.15" width="9.83" height="9.81" fill="#f33100"/><rect x="85.80" y="190.15" width="9.83" height="9.81" fill="#f32600"/><rect x="95.33" y="190.15" width="9.83" height="9.81" fill="#f32400"/><rect x="104.87" y="190.15" width="9.83" height="9.81" fill="#f32a00"/><rect x="114.40" y="190.15" width="9.83" height="9.81" fill="#928400"/><rect x="123.93" y="190.15" width="9.83" height="9.81" fill="#314200"/><rect x="133.47" y="190.15" width="9.83" height="9.81" fill="#313e00"/><rect x="143.00" y="190.15" width="9.83" height="9.81" fill="#928000"/><rect x="152.53" y="190.15" width="9.83" height="9.81" fill="#c12000"/><rect x="162.07" y="190.15" width="9.83" height="9.81" fill="#c12200"/><rect x="171.60" y="190.15" width="9.83" height="9.81" fill="#aa6700"/><rect x="181.13" y="190.15" width="9.83" height="9.81" fill="#496500"/><rect x="190.67" y="190.15" width="9.83" height="9.81" fill="#313c00"/><rect x="200.20" y="190.15" width="9.83" height="9.81" fill="#617600"/><rect x="209.73" y="190.15" width="9.83" height="9.81" fill="#314000"/><rect x="219.27" y="190.15" width="23.83" height="9.81" fill="#aa6600"/><rect x="-14.00" y="199.66" width="23.83" height="9.81" fill="#313000"/><rect x="9.53" y="199.66" width="9.83" height="9.81" fill="#3d4600"/><rect x="19.07" y="199.66" width="9.83" height="9.81" fill="#313f00"/><rect x="28.60" y="199.66" width="9.83" height="9.81" fill="#928100"/><rect x="38.13" y="199.66" width="9.83" height="9.81" fill="#c12000"/><rect x="47.67" y="199.66" width="9.83" height="9.81" fill="#c12400"/><rect x="57.20" y="199.66" width="9.83" height="9.81" fill="#617d00"/><rect x="66.73" y="199.66" width="9.83" height="9.81" fill="#496600"/><rect x="76.27" y="199.66" width="9.83" height="9.81" fill="#aa6700"/><rect x="85.80" y="199.66" width="9.83" height="9.81" fill="#f33200"/><rect x="95.33" y="199.66" width="9.83" height="9.81" fill="#f32c00"/><rect x="104.87" y="199.66" width="9.83" height="9.81" fill="#f32d00"/><rect x="114.40" y="199.66" width="9.83" height="9.81" fill="#f33700"/><rect x="123.93" y="199.66" width="9.83" height="9.81" fill="#496a00"/><rect x="133.47" y="199.66" width="9.83" height="9.81" fill="#314200"/><rect x="143.00" y="199.66" width="9.83" height="9.81" fill="#c12900"/><rect x="152.53" y="199.66" width="9.83" height="9.81" fill="#c11a00"/><rect x="162.07" y="199.66" width="9.83" height="9.81" fill="#c11700"/><rect x="171.60" y="199.66" width="9.83" height="9.81" fill="#c12200"/><rect x="181.13" y="199.66" width="9.83" height="9.81" fill="#aa6600"/><rect x="190.67" y="199.66" width="9.83" height="9.81" fill="#617b00"/><rect x="200.20" y="199.66" width="9.83" height="9.81" fill="#797f00"/><rect x="209.73" y="199.66" width="9.83" height="9.81" fill="#313e00"/><rect x="219.27" y="199.66" width="23.83" height="9.81" fill="#aa6600"/><rect x="-14.00" y="209.16" width="23.83" height="9.81" fill="#242d00"/><rect x="9.53" y="209.16" width="9.83" height="9.81" fill="#313400"/><rect x="19.07" y="209.16" width="9.83" height="9.81" fill="#617e00"/><rect x="28.60" y="209.16" width="9.83" height="9.81" fill="#c12900"/><rect x="38.13" y="209.16" width="9.83" height="9.81" fill="#c11e00"/><rect x="47.67" y="209.16" width="9.83" height="9.81" fill="#c11f00"/><rect x="57.20" y="209.16" width="9.83" height="9.81" fill="#c12600"/><rect x="66.73" y="209.16" width="9.83" height="9.81" fill="#617d00"/><rect x="76.27" y="209.16" width="9.83" height="9.81" fill="#496600"/><rect x="85.80" y="209.16" width="9.83" height="9.81" fill="#aa6800"/><rect x="95.33" y="209.16" width="9.83" height="9.81" fill="#798a00"/><rect x="104.87" y="209.16" width="9.83" height="9.81" fill="#f33500"/><rect x="114.40" y="209.16" width="9.83" height="9.81" fill="#f33200"/><rect x="123.93" y="209.16" width="9.83" height="9.81" fill="#aa6800"/><rect x="133.47" y="209.16" width="9.83" height="9.81" fill="#798700"/><rect x="143.00" y="209.16" width="9.83" height="9.81" fill="#c12500"/><rect x="152.53" y="209.16" width="9.83" height="9.81" fill="#c11500"/><rect x="162.07" y="209.16" width="9.83" height="9.81" fill="#c11500"/><rect x="171.60" y="209.16" width="9.83" height="9.81" fill="#c11700"/><rect x="181.13" y="209.16" width="9.83" height="9.81" fill="#c12200"/><rect x="190.67" y="209.16" width="9.83" height="9.81" fill="#617a00"/><rect x="200.20" y="209.16" width="9.83" height="9.81" fill="#798000"/><rect x="209.73" y="209.16" width="9.83" height="9.81" fill="#313d00"/><rect x="219.27" y="209.16" width="23.83" height="9.81" fill="#927d00"/><rect x="-14.00" y="218.67" width="23.83" height="9.81" fill="#0f2800"/><rect x="9.53" y="218.67" width="9.83" height="9.81" fill="#243000"/><rect x="19.07" y="218.67" width="9.83" height="9.81" fill="#313f00"/><rect x="28.60" y="218.67" width="9.83" height="9.81" fill="#798900"/><rect x="38.13" y="218.67" width="9.83" height="9.81" fill="#c12500"/><rect x="47.67" y="218.67" width="9.83" height="9.81" fill="#c11a00"/><rect x="57.20" y="218.67" width="9.83" height="9.81" fill="#c11f00"/><rect x="66.73" y="218.67" width="9.83" height="9.81" fill="#c12600"/><rect x="76.27" y="218.67" width="9.83" height="9.81" fill="#617d00"/><rect x="85.80" y="218.67" width="9.83" height="9.81" fill="#496500"/><rect x="95.33" y="218.67" width="9.83" height="9.81" fill="#314200"/><rect x="104.87" y="218.67" width="9.83" height="9.81" fill="#928500"/><rect x="114.40" y="218.67" width="9.83" height="9.81" fill="#f33500"/><rect x="123.93" y="218.67" width="9.83" height="9.81" fill="#f32e00"/><rect x="133.47" y="218.67" width="9.83" height="9.81" fill="#aa5d00"/><rect x="143.00" y="218.67" width="9.83" height="9.81" fill="#c11d00"/><rect x="152.53" y="218.67" width="9.83" height="9.81" fill="#c11a00"/><rect x="162.07" y="218.67" width="9.83" height="9.81" fill="#c11500"/><rect x="171.60" y="218.67" width="9.83" height="9.81" fill="#c11500"/><rect x="181.13" y="218.67" width="9.83" height="9.81" fill="#c12000"/><rect x="190.67" y="218.67" width="9.83" height="9.81" fill="#927d00"/><rect x="200.20" y="218.67" width="9.83" height="9.81" fill="#496300"/><rect x="209.73" y="218.67" width="9.83" height="9.81" fill="#313c00"/><rect x="219.27" y="218.67" width="23.83" height="9.81" fill="#798400"/><rect x="-14.00" y="228.18" width="23.83" height="9.81" fill="#242c00"/><rect x="9.53" y="228.18" width="9.83" height="9.81" fill="#313100"/><rect x="19.07" y="228.18" width="9.83" height="9.81" fill="#313700"/><rect x="28.60" y="228.18" width="9.83" height="9.81" fill="#314100"/><rect x="38.13" y="228.18" width="9.83" height="9.81" fill="#928100"/><rect x="47.67" y="228.18" width="9.83" height="9.81" fill="#c12000"/><rect x="57.20" y="228.18" width="9.83" height="9.81" fill="#c11500"/><rect x="66.73" y="228.18" width="9.83" height="9.81" fill="#c11f00"/><rect x="76.27" y="228.18" width="9.83" height="9.81" fill="#c12600"/><rect x="85.80" y="228.18" width="9.83" height="9.81" fill="#618300"/><rect x="95.33" y="228.18" width="9.83" height="9.81" fill="#0f3b00"/><rect x="104.87" y="228.18" width="9.83" height="9.81" fill="#314400"/><rect x="114.40" y="228.18" width="9.83" height="9.81" fill="#798a00"/><rect x="123.93" y="228.18" width="9.83" height="9.81" fill="#f33200"/><rect x="133.47" y="228.18" width="9.83" height="9.81" fill="#aa6200"/><rect x="143.00" y="228.18" width="9.83" height="9.81" fill="#927800"/><rect x="152.53" y="228.18" width="9.83" height="9.81" fill="#c12200"/><rect x="162.07" y="228.18" width="9.83" height="9.81" fill="#c11700"/><rect x="171.60" y="228.18" width="9.83" height="9.81" fill="#c11500"/><rect x="181.13" y="228.18" width="9.83" height="9.81" fill="#c11a00"/><rect x="190.67" y="228.18" width="9.83" height="9.81" fill="#c12500"/><rect x="200.20" y="228.18" width="9.83" height="9.81" fill="#496600"/><rect x="209.73" y="228.18" width="9.83" height="9.81" fill="#496200"/><rect x="219.27" y="228.18" width="23.83" height="9.81" fill="#aa6200"/><rect x="-14.00" y="237.69" width="23.83" height="9.81" fill="#0f3900"/><rect x="9.53" y="237.69" width="9.83" height="9.81" fill="#244300"/><rect x="19.07" y="237.69" width="9.83" height="9.81" fill="#0f4300"/><rect x="28.60" y="237.69" width="9.83" height="9.81" fill="#0f4100"/><rect x="38.13" y="237.69" width="9.83" height="9.81" fill="#618400"/><rect x="47.67" y="237.69" width="9.83" height="9.81" fill="#c12100"/><rect x="57.20" y="237.69" width="9.83" height="9.81" fill="#c11600"/><rect x="66.73" y="237.69" width="9.83" height="9.81" fill="#c11500"/><rect x="76.27" y="237.69" width="9.83" height="9.81" fill="#c11f00"/><rect x="85.80" y="237.69" width="9.83" height="9.81" fill="#c12900"/><rect x="95.33" y="237.69" width="9.83" height="9.81" fill="#c12b00"/><rect x="104.87" y="237.69" width="9.83" height="9.81" fill="#aa6a00"/><rect x="114.40" y="237.69" width="9.83" height="9.81" fill="#496700"/><rect x="123.93" y="237.69" width="9.83" height="9.81" fill="#f33200"/><rect x="133.47" y="237.69" width="9.83" height="9.81" fill="#aa6300"/><rect x="143.00" y="237.69" width="9.83" height="9.81" fill="#496100"/><rect x="152.53" y="237.69" width="9.83" height="9.81" fill="#aa6000"/><rect x="162.07" y="237.69" width="9.83" height="9.81" fill="#c11700"/><rect x="171.60" y="237.69" width="9.83" height="9.81" fill="#c11500"/><rect x="181.13" y="237.69" width="9.83" height="9.81" fill="#c11700"/><rect x="190.67" y="237.69" width="9.83" height="9.81" fill="#c12500"/><rect x="200.20" y="237.69" width="9.83" height="9.81" fill="#aa6600"/><rect x="209.73" y="237.69" width="9.83" height="9.81" fill="#927c00"/><rect x="219.27" y="237.69" width="23.83" height="9.81" fill="#496400"/><rect x="-14.00" y="247.19" width="23.83" height="23.81" fill="#314700"/><rect x="9.53" y="247.19" width="9.83" height="23.81" fill="#f34000"/><rect x="19.07" y="247.19" width="9.83" height="23.81" fill="#f34000"/><rect x="28.60" y="247.19" width="9.83" height="23.81" fill="#f33d00"/><rect x="38.13" y="247.19" width="9.83" height="23.81" fill="#f33800"/><rect x="47.67" y="247.19" width="9.83" height="23.81" fill="#ce2700"/><rect x="57.20" y="247.19" width="9.83" height="23.81" fill="#c11600"/><rect x="66.73" y="247.19" width="9.83" height="23.81" fill="#c11500"/><rect x="76.27" y="247.19" width="9.83" height="23.81" fill="#c11500"/><rect x="85.80" y="247.19" width="9.83" height="23.81" fill="#c11500"/><rect x="95.33" y="247.19" width="9.83" height="23.81" fill="#c11700"/><rect x="104.87" y="247.19" width="9.83" height="23.81" fill="#c12200"/><rect x="114.40" y="247.19" width="9.83" height="23.81" fill="#c12400"/><rect x="123.93" y="247.19" width="9.83" height="23.81" fill="#798500"/><rect x="133.47" y="247.19" width="9.83" height="23.81" fill="#f33200"/><rect x="143.00" y="247.19" width="9.83" height="23.81" fill="#c12300"/><rect x="152.53" y="247.19" width="9.83" height="23.81" fill="#c12200"/><rect x="162.07" y="247.19" width="9.83" height="23.81" fill="#c11700"/><rect x="171.60" y="247.19" width="9.83" height="23.81" fill="#c11500"/><rect x="181.13" y="247.19" width="9.83" height="23.81" fill="#c11800"/><rect x="190.67" y="247.19" width="9.83" height="23.81" fill="#aa6300"/><rect x="200.20" y="247.19" width="9.83" height="23.81" fill="#496600"/><rect x="209.73" y="247.19" width="9.83" height="23.81" fill="#313c00"/><rect x="219.27" y="247.19" width="23.83" height="23.81" fill="#313800"/></g></defs><g clip-path="url(#clipA)"><g filter="url(#blurA)"><rect x="38.0" y="18.0" width="22.0" height="22.0" fill="rgb(80,62,48)"/><rect x="59.5" y="18.0" width="10.0" height="22.0" fill="rgb(80,62,48)"/><rect x="69.0" y="18.0" width="10.0" height="22.0" fill="rgb(80,62,48)"/><rect x="78.6" y="18.0" width="10.0" height="22.0" fill="rgb(80,62,48)"/><rect x="88.1" y="18.0" width="10.0" height="22.0" fill="rgb(80,62,48)"/><rect x="97.6" y="18.0" width="10.0" height="22.0" fill="rgb(80,62,48)"/><rect x="107.1" y="18.0" width="10.0" height="22.0" fill="rgb(80,62,48)"/><rect x="116.6" y="18.0" width="10.0" height="22.0" fill="rgb(80,62,48)"/><rect x="126.2" y="18.0" width="10.0" height="22.0" fill="rgb(80,62,48)"/><rect x="135.7" y="18.0" width="10.0" height="22.0" fill="rgb(80,62,48)"/><rect x="145.2" y="18.0" width="10.0" height="22.0" fill="rgb(80,62,48)"/><rect x="154.7" y="18.0" width="10.0" height="22.0" fill="rgb(80,62,48)"/><rect x="164.2" y="18.0" width="10.0" height="22.0" fill="rgb(98,70,50)"/><rect x="173.8" y="18.0" width="10.0" height="22.0" fill="rgb(98,70,50)"/><rect x="183.3" y="18.0" width="10.0" height="22.0" fill="rgb(98,70,50)"/><rect x="192.8" y="18.0" width="10.0" height="22.0" fill="rgb(116,90,72)"/><rect x="202.3" y="18.0" width="10.0" height="22.0" fill="rgb(116,90,72)"/><rect x="211.9" y="18.0" width="10.0" height="22.0" fill="rgb(116,90,72)"/><rect x="221.4" y="18.0" width="10.0" height="22.0" fill="rgb(90,75,62)"/><rect x="230.9" y="18.0" width="10.0" height="22.0" fill="rgb(90,75,62)"/><rect x="240.4" y="18.0" width="10.0" height="22.0" fill="rgb(90,75,62)"/><rect x="249.9" y="18.0" width="10.0" height="22.0" fill="rgb(90,75,62)"/><rect x="259.5" y="18.0" width="10.0" height="22.0" fill="rgb(90,75,62)"/><rect x="269.0" y="18.0" width="22.0" height="22.0" fill="rgb(90,75,62)"/><rect x="38.0" y="39.5" width="22.0" height="10.0" fill="rgb(98,70,50)"/><rect x="59.5" y="39.5" width="10.0" height="10.0" fill="rgb(98,70,50)"/><rect x="69.0" y="39.5" width="10.0" height="10.0" fill="rgb(98,70,50)"/><rect x="78.6" y="39.5" width="10.0" height="10.0" fill="rgb(98,70,50)"/><rect x="88.1" y="39.5" width="10.0" height="10.0" fill="rgb(98,70,50)"/><rect x="97.6" y="39.5" width="10.0" height="10.0" fill="rgb(98,70,50)"/><rect x="107.1" y="39.5" width="10.0" height="10.0" fill="rgb(98,70,50)"/><rect x="116.6" y="39.5" width="10.0" height="10.0" fill="rgb(98,70,50)"/><rect x="126.2" y="39.5" width="10.0" height="10.0" fill="rgb(98,70,50)"/><rect x="135.7" y="39.5" width="10.0" height="10.0" fill="rgb(98,70,50)"/><rect x="145.2" y="39.5" width="10.0" height="10.0" fill="rgb(98,70,50)"/><rect x="154.7" y="39.5" width="10.0" height="10.0" fill="rgb(98,70,50)"/><rect x="164.2" y="39.5" width="10.0" height="10.0" fill="rgb(98,70,50)"/><rect x="173.8" y="39.5" width="10.0" height="10.0" fill="rgb(98,70,50)"/><rect x="183.3" y="39.5" width="10.0" height="10.0" fill="rgb(98,70,50)"/><rect x="192.8" y="39.5" width="10.0" height="10.0" fill="rgb(116,90,72)"/><rect x="202.3" y="39.5" width="10.0" height="10.0" fill="rgb(128,110,93)"/><rect x="211.9" y="39.5" width="10.0" height="10.0" fill="rgb(116,90,72)"/><rect x="221.4" y="39.5" width="10.0" height="10.0" fill="rgb(116,90,72)"/><rect x="230.9" y="39.5" width="10.0" height="10.0" fill="rgb(90,75,62)"/><rect x="240.4" y="39.5" width="10.0" height="10.0" fill="rgb(90,75,62)"/><rect x="249.9" y="39.5" width="10.0" height="10.0" fill="rgb(90,75,62)"/><rect x="259.5" y="39.5" width="10.0" height="10.0" fill="rgb(90,75,62)"/><rect x="269.0" y="39.5" width="22.0" height="10.0" fill="rgb(90,75,62)"/><rect x="38.0" y="49.0" width="22.0" height="10.0" fill="rgb(110,76,54)"/><rect x="59.5" y="49.0" width="10.0" height="10.0" fill="rgb(110,76,54)"/><rect x="69.0" y="49.0" width="10.0" height="10.0" fill="rgb(110,76,54)"/><rect x="78.6" y="49.0" width="10.0" height="10.0" fill="rgb(110,76,54)"/><rect x="88.1" y="49.0" width="10.0" height="10.0" fill="rgb(110,76,54)"/><rect x="97.6" y="49.0" width="10.0" height="10.0" fill="rgb(110,76,54)"/><rect x="107.1" y="49.0" width="10.0" height="10.0" fill="rgb(98,70,50)"/><rect x="116.6" y="49.0" width="10.0" height="10.0" fill="rgb(98,70,50)"/><rect x="126.2" y="49.0" width="10.0" height="10.0" fill="rgb(98,70,50)"/><rect x="135.7" y="49.0" width="10.0" height="10.0" fill="rgb(98,70,50)"/><rect x="145.2" y="49.0" width="10.0" height="10.0" fill="rgb(98,70,50)"/><rect x="154.7" y="49.0" width="10.0" height="10.0" fill="rgb(98,70,50)"/><rect x="164.2" y="49.0" width="10.0" height="10.0" fill="rgb(98,70,50)"/><rect x="173.8" y="49.0" width="10.0" height="10.0" fill="rgb(98,70,50)"/><rect x="183.3" y="49.0" width="10.0" height="10.0" fill="rgb(116,90,72)"/><rect x="192.8" y="49.0" width="10.0" height="10.0" fill="rgb(128,110,93)"/><rect x="202.3" y="49.0" width="10.0" height="10.0" fill="rgb(128,110,93)"/><rect x="211.9" y="49.0" width="10.0" height="10.0" fill="rgb(116,90,72)"/><rect x="221.4" y="49.0" width="10.0" height="10.0" fill="rgb(116,90,72)"/><rect x="230.9" y="49.0" width="10.0" height="10.0" fill="rgb(90,75,62)"/><rect x="240.4" y="49.0" width="10.0" height="10.0" fill="rgb(90,75,62)"/><rect x="249.9" y="49.0" width="10.0" height="10.0" fill="rgb(116,90,72)"/><rect x="259.5" y="49.0" width="10.0" height="10.0" fill="rgb(90,75,62)"/><rect x="269.0" y="49.0" width="22.0" height="10.0" fill="rgb(90,75,62)"/><rect x="38.0" y="58.5" width="22.0" height="10.0" fill="rgb(110,76,54)"/><rect x="59.5" y="58.5" width="10.0" height="10.0" fill="rgb(110,76,54)"/><rect x="69.0" y="58.5" width="10.0" height="10.0" fill="rgb(110,76,54)"/><rect x="78.6" y="58.5" width="10.0" height="10.0" fill="rgb(110,76,54)"/><rect x="88.1" y="58.5" width="10.0" height="10.0" fill="rgb(110,76,54)"/><rect x="97.6" y="58.5" width="10.0" height="10.0" fill="rgb(110,76,54)"/><rect x="107.1" y="58.5" width="10.0" height="10.0" fill="rgb(98,70,50)"/><rect x="116.6" y="58.5" width="10.0" height="10.0" fill="rgb(98,70,50)"/><rect x="126.2" y="58.5" width="10.0" height="10.0" fill="rgb(98,70,50)"/><rect x="135.7" y="58.5" width="10.0" height="10.0" fill="rgb(98,70,50)"/><rect x="145.2" y="58.5" width="10.0" height="10.0" fill="rgb(98,70,50)"/><rect x="154.7" y="58.5" width="10.0" height="10.0" fill="rgb(98,70,50)"/><rect x="164.2" y="58.5" width="10.0" height="10.0" fill="rgb(98,70,50)"/><rect x="173.8" y="58.5" width="10.0" height="10.0" fill="rgb(98,70,50)"/><rect x="183.3" y="58.5" width="10.0" height="10.0" fill="rgb(116,90,72)"/><rect x="192.8" y="58.5" width="10.0" height="10.0" fill="rgb(128,110,93)"/><rect x="202.3" y="58.5" width="10.0" height="10.0" fill="rgb(128,110,93)"/><rect x="211.9" y="58.5" width="10.0" height="10.0" fill="rgb(116,90,72)"/><rect x="221.4" y="58.5" width="10.0" height="10.0" fill="rgb(116,90,72)"/><rect x="230.9" y="58.5" width="10.0" height="10.0" fill="rgb(90,75,62)"/><rect x="240.4" y="58.5" width="10.0" height="10.0" fill="rgb(116,90,72)"/><rect x="249.9" y="58.5" width="10.0" height="10.0" fill="rgb(116,90,72)"/><rect x="259.5" y="58.5" width="10.0" height="10.0" fill="rgb(90,75,62)"/><rect x="269.0" y="58.5" width="22.0" height="10.0" fill="rgb(90,75,62)"/><rect x="38.0" y="68.0" width="22.0" height="10.0" fill="rgb(110,76,54)"/><rect x="59.5" y="68.0" width="10.0" height="10.0" fill="rgb(110,76,54)"/><rect x="69.0" y="68.0" width="10.0" height="10.0" fill="rgb(110,76,54)"/><rect x="78.6" y="68.0" width="10.0" height="10.0" fill="rgb(110,76,54)"/><rect x="88.1" y="68.0" width="10.0" height="10.0" fill="rgb(110,76,54)"/><rect x="97.6" y="68.0" width="10.0" height="10.0" fill="rgb(110,76,54)"/><rect x="107.1" y="68.0" width="10.0" height="10.0" fill="rgb(98,70,50)"/><rect x="116.6" y="68.0" width="10.0" height="10.0" fill="rgb(98,70,50)"/><rect x="126.2" y="68.0" width="10.0" height="10.0" fill="rgb(98,70,50)"/><rect x="135.7" y="68.0" width="10.0" height="10.0" fill="rgb(98,70,50)"/><rect x="145.2" y="68.0" width="10.0" height="10.0" fill="rgb(98,70,50)"/><rect x="154.7" y="68.0" width="10.0" height="10.0" fill="rgb(110,76,54)"/><rect x="164.2" y="68.0" width="10.0" height="10.0" fill="rgb(98,70,50)"/><rect x="173.8" y="68.0" width="10.0" height="10.0" fill="rgb(98,70,50)"/><rect x="183.3" y="68.0" width="10.0" height="10.0" fill="rgb(116,90,72)"/><rect x="192.8" y="68.0" width="10.0" height="10.0" fill="rgb(128,110,93)"/><rect x="202.3" y="68.0" width="10.0" height="10.0" fill="rgb(128,110,93)"/><rect x="211.9" y="68.0" width="10.0" height="10.0" fill="rgb(116,90,72)"/><rect x="221.4" y="68.0" width="10.0" height="10.0" fill="rgb(90,75,62)"/><rect x="230.9" y="68.0" width="10.0" height="10.0" fill="rgb(90,75,62)"/><rect x="240.4" y="68.0" width="10.0" height="10.0" fill="rgb(116,90,72)"/><rect x="249.9" y="68.0" width="10.0" height="10.0" fill="rgb(116,90,72)"/><rect x="259.5" y="68.0" width="10.0" height="10.0" fill="rgb(116,90,72)"/><rect x="269.0" y="68.0" width="22.0" height="10.0" fill="rgb(90,75,62)"/><rect x="38.0" y="77.5" width="22.0" height="10.0" fill="rgb(110,76,54)"/><rect x="59.5" y="77.5" width="10.0" height="10.0" fill="rgb(110,76,54)"/><rect x="69.0" y="77.5" width="10.0" height="10.0" fill="rgb(110,76,54)"/><rect x="78.6" y="77.5" width="10.0" height="10.0" fill="rgb(110,76,54)"/><rect x="88.1" y="77.5" width="10.0" height="10.0" fill="rgb(110,76,54)"/><rect x="97.6" y="77.5" width="10.0" height="10.0" fill="rgb(110,76,54)"/><rect x="107.1" y="77.5" width="10.0" height="10.0" fill="rgb(98,70,50)"/><rect x="116.6" y="77.5" width="10.0" height="10.0" fill="rgb(98,70,50)"/><rect x="126.2" y="77.5" width="10.0" height="10.0" fill="rgb(98,70,50)"/><rect x="135.7" y="77.5" width="10.0" height="10.0" fill="rgb(98,70,50)"/><rect x="145.2" y="77.5" width="10.0" height="10.0" fill="rgb(98,70,50)"/><rect x="154.7" y="77.5" width="10.0" height="10.0" fill="rgb(110,76,54)"/><rect x="164.2" y="77.5" width="10.0" height="10.0" fill="rgb(98,70,50)"/><rect x="173.8" y="77.5" width="10.0" height="10.0" fill="rgb(98,70,50)"/><rect x="183.3" y="77.5" width="10.0" height="10.0" fill="rgb(98,70,50)"/><rect x="192.8" y="77.5" width="10.0" height="10.0" fill="rgb(128,110,93)"/><rect x="202.3" y="77.5" width="10.0" height="10.0" fill="rgb(128,110,93)"/><rect x="211.9" y="77.5" width="10.0" height="10.0" fill="rgb(116,90,72)"/><rect x="221.4" y="77.5" width="10.0" height="10.0" fill="rgb(90,75,62)"/><rect x="230.9" y="77.5" width="10.0" height="10.0" fill="rgb(90,75,62)"/><rect x="240.4" y="77.5" width="10.0" height="10.0" fill="rgb(116,90,72)"/><rect x="249.9" y="77.5" width="10.0" height="10.0" fill="rgb(116,90,72)"/><rect x="259.5" y="77.5" width="10.0" height="10.0" fill="rgb(90,75,62)"/><rect x="269.0" y="77.5" width="22.0" height="10.0" fill="rgb(90,75,62)"/><rect x="38.0" y="87.0" width="22.0" height="10.0" fill="rgb(110,76,54)"/><rect x="59.5" y="87.0" width="10.0" height="10.0" fill="rgb(110,76,54)"/><rect x="69.0" y="87.0" width="10.0" height="10.0" fill="rgb(110,76,54)"/><rect x="78.6" y="87.0" width="10.0" height="10.0" fill="rgb(110,76,54)"/><rect x="88.1" y="87.0" width="10.0" height="10.0" fill="rgb(110,76,54)"/><rect x="97.6" y="87.0" width="10.0" height="10.0" fill="rgb(110,76,54)"/><rect x="107.1" y="87.0" width="10.0" height="10.0" fill="rgb(98,70,50)"/><rect x="116.6" y="87.0" width="10.0" height="10.0" fill="rgb(98,70,50)"/><rect x="126.2" y="87.0" width="10.0" height="10.0" fill="rgb(98,70,50)"/><rect x="135.7" y="87.0" width="10.0" height="10.0" fill="rgb(98,70,50)"/><rect x="145.2" y="87.0" width="10.0" height="10.0" fill="rgb(110,76,54)"/><rect x="154.7" y="87.0" width="10.0" height="10.0" fill="rgb(110,76,54)"/><rect x="164.2" y="87.0" width="10.0" height="10.0" fill="rgb(98,70,50)"/><rect x="173.8" y="87.0" width="10.0" height="10.0" fill="rgb(98,70,50)"/><rect x="183.3" y="87.0" width="10.0" height="10.0" fill="rgb(98,70,50)"/><rect x="192.8" y="87.0" width="10.0" height="10.0" fill="rgb(128,110,93)"/><rect x="202.3" y="87.0" width="10.0" height="10.0" fill="rgb(128,110,93)"/><rect x="211.9" y="87.0" width="10.0" height="10.0" fill="rgb(116,90,72)"/><rect x="221.4" y="87.0" width="10.0" height="10.0" fill="rgb(90,75,62)"/><rect x="230.9" y="87.0" width="10.0" height="10.0" fill="rgb(90,75,62)"/><rect x="240.4" y="87.0" width="10.0" height="10.0" fill="rgb(90,75,62)"/><rect x="249.9" y="87.0" width="10.0" height="10.0" fill="rgb(90,75,62)"/><rect x="259.5" y="87.0" width="10.0" height="10.0" fill="rgb(116,90,72)"/><rect x="269.0" y="87.0" width="22.0" height="10.0" fill="rgb(90,75,62)"/><rect x="38.0" y="96.5" width="22.0" height="10.0" fill="rgb(120,82,58)"/><rect x="59.5" y="96.5" width="10.0" height="10.0" fill="rgb(110,76,54)"/><rect x="69.0" y="96.5" width="10.0" height="10.0" fill="rgb(110,76,54)"/><rect x="78.6" y="96.5" width="10.0" height="10.0" fill="rgb(110,76,54)"/><rect x="88.1" y="96.5" width="10.0" height="10.0" fill="rgb(110,76,54)"/><rect x="97.6" y="96.5" width="10.0" height="10.0" fill="rgb(110,76,54)"/><rect x="107.1" y="96.5" width="10.0" height="10.0" fill="rgb(110,76,54)"/><rect x="116.6" y="96.5" width="10.0" height="10.0" fill="rgb(98,70,50)"/><rect x="126.2" y="96.5" width="10.0" height="10.0" fill="rgb(98,70,50)"/><rect x="135.7" y="96.5" width="10.0" height="10.0" fill="rgb(98,70,50)"/><rect x="145.2" y="96.5" width="10.0" height="10.0" fill="rgb(110,76,54)"/><rect x="154.7" y="96.5" width="10.0" height="10.0" fill="rgb(110,76,54)"/><rect x="164.2" y="96.5" width="10.0" height="10.0" fill="rgb(98,70,50)"/><rect x="173.8" y="96.5" width="10.0" height="10.0" fill="rgb(98,70,50)"/><rect x="183.3" y="96.5" width="10.0" height="10.0" fill="rgb(98,70,50)"/><rect x="192.8" y="96.5" width="10.0" height="10.0" fill="rgb(116,90,72)"/><rect x="202.3" y="96.5" width="10.0" height="10.0" fill="rgb(128,110,93)"/><rect x="211.9" y="96.5" width="10.0" height="10.0" fill="rgb(116,90,72)"/><rect x="221.4" y="96.5" width="10.0" height="10.0" fill="rgb(90,75,62)"/><rect x="230.9" y="96.5" width="10.0" height="10.0" fill="rgb(90,75,62)"/><rect x="240.4" y="96.5" width="10.0" height="10.0" fill="rgb(90,75,62)"/><rect x="249.9" y="96.5" width="10.0" height="10.0" fill="rgb(90,75,62)"/><rect x="259.5" y="96.5" width="10.0" height="10.0" fill="rgb(116,90,72)"/><rect x="269.0" y="96.5" width="22.0" height="10.0" fill="rgb(90,75,62)"/><rect x="38.0" y="106.0" width="22.0" height="10.0" fill="rgb(120,82,58)"/><rect x="59.5" y="106.0" width="10.0" height="10.0" fill="rgb(120,82,58)"/><rect x="69.0" y="106.0" width="10.0" height="10.0" fill="rgb(110,76,54)"/><rect x="78.6" y="106.0" width="10.0" height="10.0" fill="rgb(110,76,54)"/><rect x="88.1" y="106.0" width="10.0" height="10.0" fill="rgb(110,76,54)"/><rect x="97.6" y="106.0" width="10.0" height="10.0" fill="rgb(110,76,54)"/><rect x="107.1" y="106.0" width="10.0" height="10.0" fill="rgb(110,76,54)"/><rect x="116.6" y="106.0" width="10.0" height="10.0" fill="rgb(110,76,54)"/><rect x="126.2" y="106.0" width="10.0" height="10.0" fill="rgb(110,76,54)"/><rect x="135.7" y="106.0" width="10.0" height="10.0" fill="rgb(110,76,54)"/><rect x="145.2" y="106.0" width="10.0" height="10.0" fill="rgb(110,76,54)"/><rect x="154.7" y="106.0" width="10.0" height="10.0" fill="rgb(110,76,54)"/><rect x="164.2" y="106.0" width="10.0" height="10.0" fill="rgb(98,70,50)"/><rect x="173.8" y="106.0" width="10.0" height="10.0" fill="rgb(98,70,50)"/><rect x="183.3" y="106.0" width="10.0" height="10.0" fill="rgb(98,70,50)"/><rect x="192.8" y="106.0" width="10.0" height="10.0" fill="rgb(116,90,72)"/><rect x="202.3" y="106.0" width="10.0" height="10.0" fill="rgb(128,110,93)"/><rect x="211.9" y="106.0" width="10.0" height="10.0" fill="rgb(116,90,72)"/><rect x="221.4" y="106.0" width="10.0" height="10.0" fill="rgb(90,75,62)"/><rect x="230.9" y="106.0" width="10.0" height="10.0" fill="rgb(90,75,62)"/><rect x="240.4" y="106.0" width="10.0" height="10.0" fill="rgb(90,75,62)"/><rect x="249.9" y="106.0" width="10.0" height="10.0" fill="rgb(145,133,118)"/><rect x="259.5" y="106.0" width="10.0" height="10.0" fill="rgb(190,184,176)"/><rect x="269.0" y="106.0" width="22.0" height="10.0" fill="rgb(145,133,118)"/><rect x="38.0" y="115.5" width="22.0" height="10.0" fill="rgb(120,82,58)"/><rect x="59.5" y="115.5" width="10.0" height="10.0" fill="rgb(120,82,58)"/><rect x="69.0" y="115.5" width="10.0" height="10.0" fill="rgb(120,82,58)"/><rect x="78.6" y="115.5" width="10.0" height="10.0" fill="rgb(110,76,54)"/><rect x="88.1" y="115.5" width="10.0" height="10.0" fill="rgb(110,76,54)"/><rect x="97.6" y="115.5" width="10.0" height="10.0" fill="rgb(110,76,54)"/><rect x="107.1" y="115.5" width="10.0" height="10.0" fill="rgb(110,76,54)"/><rect x="116.6" y="115.5" width="10.0" height="10.0" fill="rgb(110,76,54)"/><rect x="126.2" y="115.5" width="10.0" height="10.0" fill="rgb(110,76,54)"/><rect x="135.7" y="115.5" width="10.0" height="10.0" fill="rgb(110,76,54)"/><rect x="145.2" y="115.5" width="10.0" height="10.0" fill="rgb(110,76,54)"/><rect x="154.7" y="115.5" width="10.0" height="10.0" fill="rgb(110,76,54)"/><rect x="164.2" y="115.5" width="10.0" height="10.0" fill="rgb(98,70,50)"/><rect x="173.8" y="115.5" width="10.0" height="10.0" fill="rgb(98,70,50)"/><rect x="183.3" y="115.5" width="10.0" height="10.0" fill="rgb(98,70,50)"/><rect x="192.8" y="115.5" width="10.0" height="10.0" fill="rgb(116,90,72)"/><rect x="202.3" y="115.5" width="10.0" height="10.0" fill="rgb(128,110,93)"/><rect x="211.9" y="115.5" width="10.0" height="10.0" fill="rgb(116,90,72)"/><rect x="221.4" y="115.5" width="10.0" height="10.0" fill="rgb(90,75,62)"/><rect x="230.9" y="115.5" width="10.0" height="10.0" fill="rgb(90,75,62)"/><rect x="240.4" y="115.5" width="10.0" height="10.0" fill="rgb(90,75,62)"/><rect x="249.9" y="115.5" width="10.0" height="10.0" fill="rgb(190,184,176)"/><rect x="259.5" y="115.5" width="10.0" height="10.0" fill="rgb(190,184,176)"/><rect x="269.0" y="115.5" width="22.0" height="10.0" fill="rgb(145,133,118)"/><rect x="38.0" y="125.0" width="22.0" height="10.0" fill="rgb(120,82,58)"/><rect x="59.5" y="125.0" width="10.0" height="10.0" fill="rgb(120,82,58)"/><rect x="69.0" y="125.0" width="10.0" height="10.0" fill="rgb(120,82,58)"/><rect x="78.6" y="125.0" width="10.0" height="10.0" fill="rgb(110,76,54)"/><rect x="88.1" y="125.0" width="10.0" height="10.0" fill="rgb(110,76,54)"/><rect x="97.6" y="125.0" width="10.0" height="10.0" fill="rgb(110,76,54)"/><rect x="107.1" y="125.0" width="10.0" height="10.0" fill="rgb(110,76,54)"/><rect x="116.6" y="125.0" width="10.0" height="10.0" fill="rgb(110,76,54)"/><rect x="126.2" y="125.0" width="10.0" height="10.0" fill="rgb(110,76,54)"/><rect x="135.7" y="125.0" width="10.0" height="10.0" fill="rgb(110,76,54)"/><rect x="145.2" y="125.0" width="10.0" height="10.0" fill="rgb(110,76,54)"/><rect x="154.7" y="125.0" width="10.0" height="10.0" fill="rgb(110,76,54)"/><rect x="164.2" y="125.0" width="10.0" height="10.0" fill="rgb(98,70,50)"/><rect x="173.8" y="125.0" width="10.0" height="10.0" fill="rgb(98,70,50)"/><rect x="183.3" y="125.0" width="10.0" height="10.0" fill="rgb(98,70,50)"/><rect x="192.8" y="125.0" width="10.0" height="10.0" fill="rgb(116,90,72)"/><rect x="202.3" y="125.0" width="10.0" height="10.0" fill="rgb(128,110,93)"/><rect x="211.9" y="125.0" width="10.0" height="10.0" fill="rgb(116,90,72)"/><rect x="221.4" y="125.0" width="10.0" height="10.0" fill="rgb(90,75,62)"/><rect x="230.9" y="125.0" width="10.0" height="10.0" fill="rgb(90,75,62)"/><rect x="240.4" y="125.0" width="10.0" height="10.0" fill="rgb(90,75,62)"/><rect x="249.9" y="125.0" width="10.0" height="10.0" fill="rgb(145,133,118)"/><rect x="259.5" y="125.0" width="10.0" height="10.0" fill="rgb(190,184,176)"/><rect x="269.0" y="125.0" width="22.0" height="10.0" fill="rgb(145,133,118)"/><rect x="38.0" y="134.5" width="22.0" height="10.0" fill="rgb(145,133,118)"/><rect x="59.5" y="134.5" width="10.0" height="10.0" fill="rgb(120,82,58)"/><rect x="69.0" y="134.5" width="10.0" height="10.0" fill="rgb(120,82,58)"/><rect x="78.6" y="134.5" width="10.0" height="10.0" fill="rgb(110,76,54)"/><rect x="88.1" y="134.5" width="10.0" height="10.0" fill="rgb(110,76,54)"/><rect x="97.6" y="134.5" width="10.0" height="10.0" fill="rgb(110,76,54)"/><rect x="107.1" y="134.5" width="10.0" height="10.0" fill="rgb(110,76,54)"/><rect x="116.6" y="134.5" width="10.0" height="10.0" fill="rgb(110,76,54)"/><rect x="126.2" y="134.5" width="10.0" height="10.0" fill="rgb(110,76,54)"/><rect x="135.7" y="134.5" width="10.0" height="10.0" fill="rgb(110,76,54)"/><rect x="145.2" y="134.5" width="10.0" height="10.0" fill="rgb(110,76,54)"/><rect x="154.7" y="134.5" width="10.0" height="10.0" fill="rgb(110,76,54)"/><rect x="164.2" y="134.5" width="10.0" height="10.0" fill="rgb(98,70,50)"/><rect x="173.8" y="134.5" width="10.0" height="10.0" fill="rgb(98,70,50)"/><rect x="183.3" y="134.5" width="10.0" height="10.0" fill="rgb(116,90,72)"/><rect x="192.8" y="134.5" width="10.0" height="10.0" fill="rgb(116,90,72)"/><rect x="202.3" y="134.5" width="10.0" height="10.0" fill="rgb(128,110,93)"/><rect x="211.9" y="134.5" width="10.0" height="10.0" fill="rgb(116,90,72)"/><rect x="221.4" y="134.5" width="10.0" height="10.0" fill="rgb(90,75,62)"/><rect x="230.9" y="134.5" width="10.0" height="10.0" fill="rgb(90,75,62)"/><rect x="240.4" y="134.5" width="10.0" height="10.0" fill="rgb(90,75,62)"/><rect x="249.9" y="134.5" width="10.0" height="10.0" fill="rgb(190,184,176)"/><rect x="259.5" y="134.5" width="10.0" height="10.0" fill="rgb(145,133,118)"/><rect x="269.0" y="134.5" width="22.0" height="10.0" fill="rgb(145,133,118)"/><rect x="38.0" y="144.0" width="22.0" height="10.0" fill="rgb(145,133,118)"/><rect x="59.5" y="144.0" width="10.0" height="10.0" fill="rgb(145,133,118)"/><rect x="69.0" y="144.0" width="10.0" height="10.0" fill="rgb(120,82,58)"/><rect x="78.6" y="144.0" width="10.0" height="10.0" fill="rgb(120,82,58)"/><rect x="88.1" y="144.0" width="10.0" height="10.0" fill="rgb(110,76,54)"/><rect x="97.6" y="144.0" width="10.0" height="10.0" fill="rgb(110,76,54)"/><rect x="107.1" y="144.0" width="10.0" height="10.0" fill="rgb(110,76,54)"/><rect x="116.6" y="144.0" width="10.0" height="10.0" fill="rgb(110,76,54)"/><rect x="126.2" y="144.0" width="10.0" height="10.0" fill="rgb(110,76,54)"/><rect x="135.7" y="144.0" width="10.0" height="10.0" fill="rgb(110,76,54)"/><rect x="145.2" y="144.0" width="10.0" height="10.0" fill="rgb(110,76,54)"/><rect x="154.7" y="144.0" width="10.0" height="10.0" fill="rgb(110,76,54)"/><rect x="164.2" y="144.0" width="10.0" height="10.0" fill="rgb(98,70,50)"/><rect x="173.8" y="144.0" width="10.0" height="10.0" fill="rgb(98,70,50)"/><rect x="183.3" y="144.0" width="10.0" height="10.0" fill="rgb(116,90,72)"/><rect x="192.8" y="144.0" width="10.0" height="10.0" fill="rgb(116,90,72)"/><rect x="202.3" y="144.0" width="10.0" height="10.0" fill="rgb(116,90,72)"/><rect x="211.9" y="144.0" width="10.0" height="10.0" fill="rgb(116,90,72)"/><rect x="221.4" y="144.0" width="10.0" height="10.0" fill="rgb(90,75,62)"/><rect x="230.9" y="144.0" width="10.0" height="10.0" fill="rgb(90,75,62)"/><rect x="240.4" y="144.0" width="10.0" height="10.0" fill="rgb(90,75,62)"/><rect x="249.9" y="144.0" width="10.0" height="10.0" fill="rgb(145,133,118)"/><rect x="259.5" y="144.0" width="10.0" height="10.0" fill="rgb(190,184,176)"/><rect x="269.0" y="144.0" width="22.0" height="10.0" fill="rgb(145,133,118)"/><rect x="38.0" y="153.5" width="22.0" height="10.0" fill="rgb(120,82,58)"/><rect x="59.5" y="153.5" width="10.0" height="10.0" fill="rgb(120,82,58)"/><rect x="69.0" y="153.5" width="10.0" height="10.0" fill="rgb(116,90,72)"/><rect x="78.6" y="153.5" width="10.0" height="10.0" fill="rgb(116,90,72)"/><rect x="88.1" y="153.5" width="10.0" height="10.0" fill="rgb(116,90,72)"/><rect x="97.6" y="153.5" width="10.0" height="10.0" fill="rgb(120,82,58)"/><rect x="107.1" y="153.5" width="10.0" height="10.0" fill="rgb(120,82,58)"/><rect x="116.6" y="153.5" width="10.0" height="10.0" fill="rgb(120,82,58)"/><rect x="126.2" y="153.5" width="10.0" height="10.0" fill="rgb(120,82,58)"/><rect x="135.7" y="153.5" width="10.0" height="10.0" fill="rgb(120,82,58)"/><rect x="145.2" y="153.5" width="10.0" height="10.0" fill="rgb(120,82,58)"/><rect x="154.7" y="153.5" width="10.0" height="10.0" fill="rgb(120,82,58)"/><rect x="164.2" y="153.5" width="10.0" height="10.0" fill="rgb(116,90,72)"/><rect x="173.8" y="153.5" width="10.0" height="10.0" fill="rgb(116,90,72)"/><rect x="183.3" y="153.5" width="10.0" height="10.0" fill="rgb(128,110,93)"/><rect x="192.8" y="153.5" width="10.0" height="10.0" fill="rgb(128,110,93)"/><rect x="202.3" y="153.5" width="10.0" height="10.0" fill="rgb(128,110,93)"/><rect x="211.9" y="153.5" width="10.0" height="10.0" fill="rgb(128,110,93)"/><rect x="221.4" y="153.5" width="10.0" height="10.0" fill="rgb(90,75,62)"/><rect x="230.9" y="153.5" width="10.0" height="10.0" fill="rgb(90,75,62)"/><rect x="240.4" y="153.5" width="10.0" height="10.0" fill="rgb(90,75,62)"/><rect x="249.9" y="153.5" width="10.0" height="10.0" fill="rgb(90,75,62)"/><rect x="259.5" y="153.5" width="10.0" height="10.0" fill="rgb(116,90,72)"/><rect x="269.0" y="153.5" width="22.0" height="10.0" fill="rgb(116,90,72)"/><rect x="38.0" y="163.0" width="22.0" height="10.0" fill="rgb(120,82,58)"/><rect x="59.5" y="163.0" width="10.0" height="10.0" fill="rgb(120,82,58)"/><rect x="69.0" y="163.0" width="10.0" height="10.0" fill="rgb(116,90,72)"/><rect x="78.6" y="163.0" width="10.0" height="10.0" fill="rgb(116,90,72)"/><rect x="88.1" y="163.0" width="10.0" height="10.0" fill="rgb(116,90,72)"/><rect x="97.6" y="163.0" width="10.0" height="10.0" fill="rgb(120,82,58)"/><rect x="107.1" y="163.0" width="10.0" height="10.0" fill="rgb(120,82,58)"/><rect x="116.6" y="163.0" width="10.0" height="10.0" fill="rgb(120,82,58)"/><rect x="126.2" y="163.0" width="10.0" height="10.0" fill="rgb(120,82,58)"/><rect x="135.7" y="163.0" width="10.0" height="10.0" fill="rgb(120,82,58)"/><rect x="145.2" y="163.0" width="10.0" height="10.0" fill="rgb(120,82,58)"/><rect x="154.7" y="163.0" width="10.0" height="10.0" fill="rgb(116,90,72)"/><rect x="164.2" y="163.0" width="10.0" height="10.0" fill="rgb(116,90,72)"/><rect x="173.8" y="163.0" width="10.0" height="10.0" fill="rgb(128,110,93)"/><rect x="183.3" y="163.0" width="10.0" height="10.0" fill="rgb(128,110,93)"/><rect x="192.8" y="163.0" width="10.0" height="10.0" fill="rgb(128,110,93)"/><rect x="202.3" y="163.0" width="10.0" height="10.0" fill="rgb(128,110,93)"/><rect x="211.9" y="163.0" width="10.0" height="10.0" fill="rgb(128,110,93)"/><rect x="221.4" y="163.0" width="10.0" height="10.0" fill="rgb(90,75,62)"/><rect x="230.9" y="163.0" width="10.0" height="10.0" fill="rgb(90,75,62)"/><rect x="240.4" y="163.0" width="10.0" height="10.0" fill="rgb(90,75,62)"/><rect x="249.9" y="163.0" width="10.0" height="10.0" fill="rgb(116,90,72)"/><rect x="259.5" y="163.0" width="10.0" height="10.0" fill="rgb(116,90,72)"/><rect x="269.0" y="163.0" width="22.0" height="10.0" fill="rgb(116,90,72)"/><rect x="38.0" y="172.5" width="22.0" height="10.0" fill="rgb(120,82,58)"/><rect x="59.5" y="172.5" width="10.0" height="10.0" fill="rgb(116,90,72)"/><rect x="69.0" y="172.5" width="10.0" height="10.0" fill="rgb(116,90,72)"/><rect x="78.6" y="172.5" width="10.0" height="10.0" fill="rgb(116,90,72)"/><rect x="88.1" y="172.5" width="10.0" height="10.0" fill="rgb(116,90,72)"/><rect x="97.6" y="172.5" width="10.0" height="10.0" fill="rgb(120,82,58)"/><rect x="107.1" y="172.5" width="10.0" height="10.0" fill="rgb(120,82,58)"/><rect x="116.6" y="172.5" width="10.0" height="10.0" fill="rgb(120,82,58)"/><rect x="126.2" y="172.5" width="10.0" height="10.0" fill="rgb(120,82,58)"/><rect x="135.7" y="172.5" width="10.0" height="10.0" fill="rgb(120,82,58)"/><rect x="145.2" y="172.5" width="10.0" height="10.0" fill="rgb(120,82,58)"/><rect x="154.7" y="172.5" width="10.0" height="10.0" fill="rgb(116,90,72)"/><rect x="164.2" y="172.5" width="10.0" height="10.0" fill="rgb(128,110,93)"/><rect x="173.8" y="172.5" width="10.0" height="10.0" fill="rgb(128,110,93)"/><rect x="183.3" y="172.5" width="10.0" height="10.0" fill="rgb(128,110,93)"/><rect x="192.8" y="172.5" width="10.0" height="10.0" fill="rgb(128,110,93)"/><rect x="202.3" y="172.5" width="10.0" height="10.0" fill="rgb(128,110,93)"/><rect x="211.9" y="172.5" width="10.0" height="10.0" fill="rgb(128,110,93)"/><rect x="221.4" y="172.5" width="10.0" height="10.0" fill="rgb(90,75,62)"/><rect x="230.9" y="172.5" width="10.0" height="10.0" fill="rgb(90,75,62)"/><rect x="240.4" y="172.5" width="10.0" height="10.0" fill="rgb(90,75,62)"/><rect x="249.9" y="172.5" width="10.0" height="10.0" fill="rgb(116,90,72)"/><rect x="259.5" y="172.5" width="10.0" height="10.0" fill="rgb(116,90,72)"/><rect x="269.0" y="172.5" width="22.0" height="10.0" fill="rgb(116,90,72)"/><rect x="38.0" y="182.0" width="22.0" height="10.0" fill="rgb(120,82,58)"/><rect x="59.5" y="182.0" width="10.0" height="10.0" fill="rgb(120,82,58)"/><rect x="69.0" y="182.0" width="10.0" height="10.0" fill="rgb(116,90,72)"/><rect x="78.6" y="182.0" width="10.0" height="10.0" fill="rgb(116,90,72)"/><rect x="88.1" y="182.0" width="10.0" height="10.0" fill="rgb(116,90,72)"/><rect x="97.6" y="182.0" width="10.0" height="10.0" fill="rgb(120,82,58)"/><rect x="107.1" y="182.0" width="10.0" height="10.0" fill="rgb(120,82,58)"/><rect x="116.6" y="182.0" width="10.0" height="10.0" fill="rgb(120,82,58)"/><rect x="126.2" y="182.0" width="10.0" height="10.0" fill="rgb(120,82,58)"/><rect x="135.7" y="182.0" width="10.0" height="10.0" fill="rgb(120,82,58)"/><rect x="145.2" y="182.0" width="10.0" height="10.0" fill="rgb(120,82,58)"/><rect x="154.7" y="182.0" width="10.0" height="10.0" fill="rgb(116,90,72)"/><rect x="164.2" y="182.0" width="10.0" height="10.0" fill="rgb(128,110,93)"/><rect x="173.8" y="182.0" width="10.0" height="10.0" fill="rgb(128,110,93)"/><rect x="183.3" y="182.0" width="10.0" height="10.0" fill="rgb(128,110,93)"/><rect x="192.8" y="182.0" width="10.0" height="10.0" fill="rgb(128,110,93)"/><rect x="202.3" y="182.0" width="10.0" height="10.0" fill="rgb(128,110,93)"/><rect x="211.9" y="182.0" width="10.0" height="10.0" fill="rgb(128,110,93)"/><rect x="221.4" y="182.0" width="10.0" height="10.0" fill="rgb(90,75,62)"/><rect x="230.9" y="182.0" width="10.0" height="10.0" fill="rgb(90,75,62)"/><rect x="240.4" y="182.0" width="10.0" height="10.0" fill="rgb(116,90,72)"/><rect x="249.9" y="182.0" width="10.0" height="10.0" fill="rgb(116,90,72)"/><rect x="259.5" y="182.0" width="10.0" height="10.0" fill="rgb(90,75,62)"/><rect x="269.0" y="182.0" width="22.0" height="10.0" fill="rgb(90,75,62)"/><rect x="38.0" y="191.5" width="22.0" height="10.0" fill="rgb(120,82,58)"/><rect x="59.5" y="191.5" width="10.0" height="10.0" fill="rgb(116,90,72)"/><rect x="69.0" y="191.5" width="10.0" height="10.0" fill="rgb(116,90,72)"/><rect x="78.6" y="191.5" width="10.0" height="10.0" fill="rgb(116,90,72)"/><rect x="88.1" y="191.5" width="10.0" height="10.0" fill="rgb(116,90,72)"/><rect x="97.6" y="191.5" width="10.0" height="10.0" fill="rgb(116,90,72)"/><rect x="107.1" y="191.5" width="10.0" height="10.0" fill="rgb(116,90,72)"/><rect x="116.6" y="191.5" width="10.0" height="10.0" fill="rgb(120,82,58)"/><rect x="126.2" y="191.5" width="10.0" height="10.0" fill="rgb(120,82,58)"/><rect x="135.7" y="191.5" width="10.0" height="10.0" fill="rgb(120,82,58)"/><rect x="145.2" y="191.5" width="10.0" height="10.0" fill="rgb(120,82,58)"/><rect x="154.7" y="191.5" width="10.0" height="10.0" fill="rgb(116,90,72)"/><rect x="164.2" y="191.5" width="10.0" height="10.0" fill="rgb(128,110,93)"/><rect x="173.8" y="191.5" width="10.0" height="10.0" fill="rgb(128,110,93)"/><rect x="183.3" y="191.5" width="10.0" height="10.0" fill="rgb(128,110,93)"/><rect x="192.8" y="191.5" width="10.0" height="10.0" fill="rgb(128,110,93)"/><rect x="202.3" y="191.5" width="10.0" height="10.0" fill="rgb(128,110,93)"/><rect x="211.9" y="191.5" width="10.0" height="10.0" fill="rgb(128,110,93)"/><rect x="221.4" y="191.5" width="10.0" height="10.0" fill="rgb(128,110,93)"/><rect x="230.9" y="191.5" width="10.0" height="10.0" fill="rgb(90,75,62)"/><rect x="240.4" y="191.5" width="10.0" height="10.0" fill="rgb(90,75,62)"/><rect x="249.9" y="191.5" width="10.0" height="10.0" fill="rgb(90,75,62)"/><rect x="259.5" y="191.5" width="10.0" height="10.0" fill="rgb(90,75,62)"/><rect x="269.0" y="191.5" width="22.0" height="10.0" fill="rgb(90,75,62)"/><rect x="38.0" y="201.0" width="22.0" height="10.0" fill="rgb(116,90,72)"/><rect x="59.5" y="201.0" width="10.0" height="10.0" fill="rgb(116,90,72)"/><rect x="69.0" y="201.0" width="10.0" height="10.0" fill="rgb(116,90,72)"/><rect x="78.6" y="201.0" width="10.0" height="10.0" fill="rgb(116,90,72)"/><rect x="88.1" y="201.0" width="10.0" height="10.0" fill="rgb(116,90,72)"/><rect x="97.6" y="201.0" width="10.0" height="10.0" fill="rgb(116,90,72)"/><rect x="107.1" y="201.0" width="10.0" height="10.0" fill="rgb(116,90,72)"/><rect x="116.6" y="201.0" width="10.0" height="10.0" fill="rgb(120,82,58)"/><rect x="126.2" y="201.0" width="10.0" height="10.0" fill="rgb(120,82,58)"/><rect x="135.7" y="201.0" width="10.0" height="10.0" fill="rgb(120,82,58)"/><rect x="145.2" y="201.0" width="10.0" height="10.0" fill="rgb(120,82,58)"/><rect x="154.7" y="201.0" width="10.0" height="10.0" fill="rgb(116,90,72)"/><rect x="164.2" y="201.0" width="10.0" height="10.0" fill="rgb(128,110,93)"/><rect x="173.8" y="201.0" width="10.0" height="10.0" fill="rgb(128,110,93)"/><rect x="183.3" y="201.0" width="10.0" height="10.0" fill="rgb(128,110,93)"/><rect x="192.8" y="201.0" width="10.0" height="10.0" fill="rgb(128,110,93)"/><rect x="202.3" y="201.0" width="10.0" height="10.0" fill="rgb(128,110,93)"/><rect x="211.9" y="201.0" width="10.0" height="10.0" fill="rgb(116,90,72)"/><rect x="221.4" y="201.0" width="10.0" height="10.0" fill="rgb(90,75,62)"/><rect x="230.9" y="201.0" width="10.0" height="10.0" fill="rgb(90,75,62)"/><rect x="240.4" y="201.0" width="10.0" height="10.0" fill="rgb(90,75,62)"/><rect x="249.9" y="201.0" width="10.0" height="10.0" fill="rgb(90,75,62)"/><rect x="259.5" y="201.0" width="10.0" height="10.0" fill="rgb(90,75,62)"/><rect x="269.0" y="201.0" width="22.0" height="10.0" fill="rgb(90,75,62)"/><rect x="38.0" y="210.5" width="22.0" height="10.0" fill="rgb(116,90,72)"/><rect x="59.5" y="210.5" width="10.0" height="10.0" fill="rgb(116,90,72)"/><rect x="69.0" y="210.5" width="10.0" height="10.0" fill="rgb(116,90,72)"/><rect x="78.6" y="210.5" width="10.0" height="10.0" fill="rgb(116,90,72)"/><rect x="88.1" y="210.5" width="10.0" height="10.0" fill="rgb(116,90,72)"/><rect x="97.6" y="210.5" width="10.0" height="10.0" fill="rgb(120,82,58)"/><rect x="107.1" y="210.5" width="10.0" height="10.0" fill="rgb(120,82,58)"/><rect x="116.6" y="210.5" width="10.0" height="10.0" fill="rgb(120,82,58)"/><rect x="126.2" y="210.5" width="10.0" height="10.0" fill="rgb(120,82,58)"/><rect x="135.7" y="210.5" width="10.0" height="10.0" fill="rgb(120,82,58)"/><rect x="145.2" y="210.5" width="10.0" height="10.0" fill="rgb(120,82,58)"/><rect x="154.7" y="210.5" width="10.0" height="10.0" fill="rgb(116,90,72)"/><rect x="164.2" y="210.5" width="10.0" height="10.0" fill="rgb(116,90,72)"/><rect x="173.8" y="210.5" width="10.0" height="10.0" fill="rgb(128,110,93)"/><rect x="183.3" y="210.5" width="10.0" height="10.0" fill="rgb(128,110,93)"/><rect x="192.8" y="210.5" width="10.0" height="10.0" fill="rgb(128,110,93)"/><rect x="202.3" y="210.5" width="10.0" height="10.0" fill="rgb(128,110,93)"/><rect x="211.9" y="210.5" width="10.0" height="10.0" fill="rgb(128,110,93)"/><rect x="221.4" y="210.5" width="10.0" height="10.0" fill="rgb(128,110,93)"/><rect x="230.9" y="210.5" width="10.0" height="10.0" fill="rgb(116,90,72)"/><rect x="240.4" y="210.5" width="10.0" height="10.0" fill="rgb(90,75,62)"/><rect x="249.9" y="210.5" width="10.0" height="10.0" fill="rgb(90,75,62)"/><rect x="259.5" y="210.5" width="10.0" height="10.0" fill="rgb(90,75,62)"/><rect x="269.0" y="210.5" width="22.0" height="10.0" fill="rgb(90,75,62)"/><rect x="38.0" y="220.0" width="22.0" height="10.0" fill="rgb(120,82,58)"/><rect x="59.5" y="220.0" width="10.0" height="10.0" fill="rgb(116,90,72)"/><rect x="69.0" y="220.0" width="10.0" height="10.0" fill="rgb(116,90,72)"/><rect x="78.6" y="220.0" width="10.0" height="10.0" fill="rgb(116,90,72)"/><rect x="88.1" y="220.0" width="10.0" height="10.0" fill="rgb(116,90,72)"/><rect x="97.6" y="220.0" width="10.0" height="10.0" fill="rgb(116,90,72)"/><rect x="107.1" y="220.0" width="10.0" height="10.0" fill="rgb(116,90,72)"/><rect x="116.6" y="220.0" width="10.0" height="10.0" fill="rgb(120,82,58)"/><rect x="126.2" y="220.0" width="10.0" height="10.0" fill="rgb(120,82,58)"/><rect x="135.7" y="220.0" width="10.0" height="10.0" fill="rgb(120,82,58)"/><rect x="145.2" y="220.0" width="10.0" height="10.0" fill="rgb(120,82,58)"/><rect x="154.7" y="220.0" width="10.0" height="10.0" fill="rgb(120,82,58)"/><rect x="164.2" y="220.0" width="10.0" height="10.0" fill="rgb(116,90,72)"/><rect x="173.8" y="220.0" width="10.0" height="10.0" fill="rgb(128,110,93)"/><rect x="183.3" y="220.0" width="10.0" height="10.0" fill="rgb(128,110,93)"/><rect x="192.8" y="220.0" width="10.0" height="10.0" fill="rgb(128,110,93)"/><rect x="202.3" y="220.0" width="10.0" height="10.0" fill="rgb(128,110,93)"/><rect x="211.9" y="220.0" width="10.0" height="10.0" fill="rgb(128,110,93)"/><rect x="221.4" y="220.0" width="10.0" height="10.0" fill="rgb(128,110,93)"/><rect x="230.9" y="220.0" width="10.0" height="10.0" fill="rgb(90,75,62)"/><rect x="240.4" y="220.0" width="10.0" height="10.0" fill="rgb(90,75,62)"/><rect x="249.9" y="220.0" width="10.0" height="10.0" fill="rgb(90,75,62)"/><rect x="259.5" y="220.0" width="10.0" height="10.0" fill="rgb(90,75,62)"/><rect x="269.0" y="220.0" width="22.0" height="10.0" fill="rgb(90,75,62)"/><rect x="38.0" y="229.5" width="22.0" height="10.0" fill="rgb(120,82,58)"/><rect x="59.5" y="229.5" width="10.0" height="10.0" fill="rgb(120,82,58)"/><rect x="69.0" y="229.5" width="10.0" height="10.0" fill="rgb(116,90,72)"/><rect x="78.6" y="229.5" width="10.0" height="10.0" fill="rgb(116,90,72)"/><rect x="88.1" y="229.5" width="10.0" height="10.0" fill="rgb(116,90,72)"/><rect x="97.6" y="229.5" width="10.0" height="10.0" fill="rgb(116,90,72)"/><rect x="107.1" y="229.5" width="10.0" height="10.0" fill="rgb(128,110,93)"/><rect x="116.6" y="229.5" width="10.0" height="10.0" fill="rgb(120,82,58)"/><rect x="126.2" y="229.5" width="10.0" height="10.0" fill="rgb(120,82,58)"/><rect x="135.7" y="229.5" width="10.0" height="10.0" fill="rgb(120,82,58)"/><rect x="145.2" y="229.5" width="10.0" height="10.0" fill="rgb(120,82,58)"/><rect x="154.7" y="229.5" width="10.0" height="10.0" fill="rgb(120,82,58)"/><rect x="164.2" y="229.5" width="10.0" height="10.0" fill="rgb(120,82,58)"/><rect x="173.8" y="229.5" width="10.0" height="10.0" fill="rgb(128,110,93)"/><rect x="183.3" y="229.5" width="10.0" height="10.0" fill="rgb(128,110,93)"/><rect x="192.8" y="229.5" width="10.0" height="10.0" fill="rgb(128,110,93)"/><rect x="202.3" y="229.5" width="10.0" height="10.0" fill="rgb(128,110,93)"/><rect x="211.9" y="229.5" width="10.0" height="10.0" fill="rgb(128,110,93)"/><rect x="221.4" y="229.5" width="10.0" height="10.0" fill="rgb(128,110,93)"/><rect x="230.9" y="229.5" width="10.0" height="10.0" fill="rgb(128,110,93)"/><rect x="240.4" y="229.5" width="10.0" height="10.0" fill="rgb(90,75,62)"/><rect x="249.9" y="229.5" width="10.0" height="10.0" fill="rgb(90,75,62)"/><rect x="259.5" y="229.5" width="10.0" height="10.0" fill="rgb(90,75,62)"/><rect x="269.0" y="229.5" width="22.0" height="10.0" fill="rgb(90,75,62)"/><rect x="38.0" y="239.0" width="22.0" height="10.0" fill="rgb(120,82,58)"/><rect x="59.5" y="239.0" width="10.0" height="10.0" fill="rgb(116,90,72)"/><rect x="69.0" y="239.0" width="10.0" height="10.0" fill="rgb(120,82,58)"/><rect x="78.6" y="239.0" width="10.0" height="10.0" fill="rgb(116,90,72)"/><rect x="88.1" y="239.0" width="10.0" height="10.0" fill="rgb(116,90,72)"/><rect x="97.6" y="239.0" width="10.0" height="10.0" fill="rgb(128,110,93)"/><rect x="107.1" y="239.0" width="10.0" height="10.0" fill="rgb(128,110,93)"/><rect x="116.6" y="239.0" width="10.0" height="10.0" fill="rgb(128,110,93)"/><rect x="126.2" y="239.0" width="10.0" height="10.0" fill="rgb(128,110,93)"/><rect x="135.7" y="239.0" width="10.0" height="10.0" fill="rgb(128,110,93)"/><rect x="145.2" y="239.0" width="10.0" height="10.0" fill="rgb(128,110,93)"/><rect x="154.7" y="239.0" width="10.0" height="10.0" fill="rgb(120,82,58)"/><rect x="164.2" y="239.0" width="10.0" height="10.0" fill="rgb(120,82,58)"/><rect x="173.8" y="239.0" width="10.0" height="10.0" fill="rgb(128,110,93)"/><rect x="183.3" y="239.0" width="10.0" height="10.0" fill="rgb(128,110,93)"/><rect x="192.8" y="239.0" width="10.0" height="10.0" fill="rgb(128,110,93)"/><rect x="202.3" y="239.0" width="10.0" height="10.0" fill="rgb(128,110,93)"/><rect x="211.9" y="239.0" width="10.0" height="10.0" fill="rgb(128,110,93)"/><rect x="221.4" y="239.0" width="10.0" height="10.0" fill="rgb(128,110,93)"/><rect x="230.9" y="239.0" width="10.0" height="10.0" fill="rgb(128,110,93)"/><rect x="240.4" y="239.0" width="10.0" height="10.0" fill="rgb(90,75,62)"/><rect x="249.9" y="239.0" width="10.0" height="10.0" fill="rgb(90,75,62)"/><rect x="259.5" y="239.0" width="10.0" height="10.0" fill="rgb(90,75,62)"/><rect x="269.0" y="239.0" width="22.0" height="10.0" fill="rgb(90,75,62)"/><rect x="38.0" y="248.5" width="22.0" height="10.0" fill="rgb(116,90,72)"/><rect x="59.5" y="248.5" width="10.0" height="10.0" fill="rgb(120,82,58)"/><rect x="69.0" y="248.5" width="10.0" height="10.0" fill="rgb(116,90,72)"/><rect x="78.6" y="248.5" width="10.0" height="10.0" fill="rgb(116,90,72)"/><rect x="88.1" y="248.5" width="10.0" height="10.0" fill="rgb(116,90,72)"/><rect x="97.6" y="248.5" width="10.0" height="10.0" fill="rgb(145,133,118)"/><rect x="107.1" y="248.5" width="10.0" height="10.0" fill="rgb(145,133,118)"/><rect x="116.6" y="248.5" width="10.0" height="10.0" fill="rgb(145,133,118)"/><rect x="126.2" y="248.5" width="10.0" height="10.0" fill="rgb(145,133,118)"/><rect x="135.7" y="248.5" width="10.0" height="10.0" fill="rgb(145,133,118)"/><rect x="145.2" y="248.5" width="10.0" height="10.0" fill="rgb(145,133,118)"/><rect x="154.7" y="248.5" width="10.0" height="10.0" fill="rgb(120,82,58)"/><rect x="164.2" y="248.5" width="10.0" height="10.0" fill="rgb(120,82,58)"/><rect x="173.8" y="248.5" width="10.0" height="10.0" fill="rgb(128,110,93)"/><rect x="183.3" y="248.5" width="10.0" height="10.0" fill="rgb(128,110,93)"/><rect x="192.8" y="248.5" width="10.0" height="10.0" fill="rgb(128,110,93)"/><rect x="202.3" y="248.5" width="10.0" height="10.0" fill="rgb(128,110,93)"/><rect x="211.9" y="248.5" width="10.0" height="10.0" fill="rgb(128,110,93)"/><rect x="221.4" y="248.5" width="10.0" height="10.0" fill="rgb(128,110,93)"/><rect x="230.9" y="248.5" width="10.0" height="10.0" fill="rgb(128,110,93)"/><rect x="240.4" y="248.5" width="10.0" height="10.0" fill="rgb(90,75,62)"/><rect x="249.9" y="248.5" width="10.0" height="10.0" fill="rgb(90,75,62)"/><rect x="259.5" y="248.5" width="10.0" height="10.0" fill="rgb(116,90,72)"/><rect x="269.0" y="248.5" width="22.0" height="10.0" fill="rgb(90,75,62)"/><rect x="38.0" y="258.0" width="22.0" height="10.0" fill="rgb(116,90,72)"/><rect x="59.5" y="258.0" width="10.0" height="10.0" fill="rgb(116,90,72)"/><rect x="69.0" y="258.0" width="10.0" height="10.0" fill="rgb(116,90,72)"/><rect x="78.6" y="258.0" width="10.0" height="10.0" fill="rgb(116,90,72)"/><rect x="88.1" y="258.0" width="10.0" height="10.0" fill="rgb(116,90,72)"/><rect x="97.6" y="258.0" width="10.0" height="10.0" fill="rgb(145,133,118)"/><rect x="107.1" y="258.0" width="10.0" height="10.0" fill="rgb(145,133,118)"/><rect x="116.6" y="258.0" width="10.0" height="10.0" fill="rgb(145,133,118)"/><rect x="126.2" y="258.0" width="10.0" height="10.0" fill="rgb(145,133,118)"/><rect x="135.7" y="258.0" width="10.0" height="10.0" fill="rgb(145,133,118)"/><rect x="145.2" y="258.0" width="10.0" height="10.0" fill="rgb(145,133,118)"/><rect x="154.7" y="258.0" width="10.0" height="10.0" fill="rgb(120,82,58)"/><rect x="164.2" y="258.0" width="10.0" height="10.0" fill="rgb(116,90,72)"/><rect x="173.8" y="258.0" width="10.0" height="10.0" fill="rgb(128,110,93)"/><rect x="183.3" y="258.0" width="10.0" height="10.0" fill="rgb(128,110,93)"/><rect x="192.8" y="258.0" width="10.0" height="10.0" fill="rgb(128,110,93)"/><rect x="202.3" y="258.0" width="10.0" height="10.0" fill="rgb(128,110,93)"/><rect x="211.9" y="258.0" width="10.0" height="10.0" fill="rgb(128,110,93)"/><rect x="221.4" y="258.0" width="10.0" height="10.0" fill="rgb(128,110,93)"/><rect x="230.9" y="258.0" width="10.0" height="10.0" fill="rgb(128,110,93)"/><rect x="240.4" y="258.0" width="10.0" height="10.0" fill="rgb(128,110,93)"/><rect x="249.9" y="258.0" width="10.0" height="10.0" fill="rgb(90,75,62)"/><rect x="259.5" y="258.0" width="10.0" height="10.0" fill="rgb(90,75,62)"/><rect x="269.0" y="258.0" width="22.0" height="10.0" fill="rgb(90,75,62)"/><rect x="38.0" y="267.5" width="22.0" height="10.0" fill="rgb(116,90,72)"/><rect x="59.5" y="267.5" width="10.0" height="10.0" fill="rgb(116,90,72)"/><rect x="69.0" y="267.5" width="10.0" height="10.0" fill="rgb(116,90,72)"/><rect x="78.6" y="267.5" width="10.0" height="10.0" fill="rgb(116,90,72)"/><rect x="88.1" y="267.5" width="10.0" height="10.0" fill="rgb(116,90,72)"/><rect x="97.6" y="267.5" width="10.0" height="10.0" fill="rgb(128,110,93)"/><rect x="107.1" y="267.5" width="10.0" height="10.0" fill="rgb(128,110,93)"/><rect x="116.6" y="267.5" width="10.0" height="10.0" fill="rgb(128,110,93)"/><rect x="126.2" y="267.5" width="10.0" height="10.0" fill="rgb(128,110,93)"/><rect x="135.7" y="267.5" width="10.0" height="10.0" fill="rgb(128,110,93)"/><rect x="145.2" y="267.5" width="10.0" height="10.0" fill="rgb(116,90,72)"/><rect x="154.7" y="267.5" width="10.0" height="10.0" fill="rgb(116,90,72)"/><rect x="164.2" y="267.5" width="10.0" height="10.0" fill="rgb(128,110,93)"/><rect x="173.8" y="267.5" width="10.0" height="10.0" fill="rgb(128,110,93)"/><rect x="183.3" y="267.5" width="10.0" height="10.0" fill="rgb(128,110,93)"/><rect x="192.8" y="267.5" width="10.0" height="10.0" fill="rgb(128,110,93)"/><rect x="202.3" y="267.5" width="10.0" height="10.0" fill="rgb(128,110,93)"/><rect x="211.9" y="267.5" width="10.0" height="10.0" fill="rgb(128,110,93)"/><rect x="221.4" y="267.5" width="10.0" height="10.0" fill="rgb(128,110,93)"/><rect x="230.9" y="267.5" width="10.0" height="10.0" fill="rgb(128,110,93)"/><rect x="240.4" y="267.5" width="10.0" height="10.0" fill="rgb(128,110,93)"/><rect x="249.9" y="267.5" width="10.0" height="10.0" fill="rgb(116,90,72)"/><rect x="259.5" y="267.5" width="10.0" height="10.0" fill="rgb(90,75,62)"/><rect x="269.0" y="267.5" width="22.0" height="10.0" fill="rgb(90,75,62)"/><rect x="38.0" y="277.0" width="22.0" height="22.0" fill="rgb(116,90,72)"/><rect x="59.5" y="277.0" width="10.0" height="22.0" fill="rgb(116,90,72)"/><rect x="69.0" y="277.0" width="10.0" height="22.0" fill="rgb(116,90,72)"/><rect x="78.6" y="277.0" width="10.0" height="22.0" fill="rgb(116,90,72)"/><rect x="88.1" y="277.0" width="10.0" height="22.0" fill="rgb(116,90,72)"/><rect x="97.6" y="277.0" width="10.0" height="22.0" fill="rgb(116,90,72)"/><rect x="107.1" y="277.0" width="10.0" height="22.0" fill="rgb(116,90,72)"/><rect x="116.6" y="277.0" width="10.0" height="22.0" fill="rgb(116,90,72)"/><rect x="126.2" y="277.0" width="10.0" height="22.0" fill="rgb(116,90,72)"/><rect x="135.7" y="277.0" width="10.0" height="22.0" fill="rgb(116,90,72)"/><rect x="145.2" y="277.0" width="10.0" height="22.0" fill="rgb(116,90,72)"/><rect x="154.7" y="277.0" width="10.0" height="22.0" fill="rgb(116,90,72)"/><rect x="164.2" y="277.0" width="10.0" height="22.0" fill="rgb(116,90,72)"/><rect x="173.8" y="277.0" width="10.0" height="22.0" fill="rgb(116,90,72)"/><rect x="183.3" y="277.0" width="10.0" height="22.0" fill="rgb(116,90,72)"/><rect x="192.8" y="277.0" width="10.0" height="22.0" fill="rgb(116,90,72)"/><rect x="202.3" y="277.0" width="10.0" height="22.0" fill="rgb(116,90,72)"/><rect x="211.9" y="277.0" width="10.0" height="22.0" fill="rgb(116,90,72)"/><rect x="221.4" y="277.0" width="10.0" height="22.0" fill="rgb(116,90,72)"/><rect x="230.9" y="277.0" width="10.0" height="22.0" fill="rgb(116,90,72)"/><rect x="240.4" y="277.0" width="10.0" height="22.0" fill="rgb(116,90,72)"/><rect x="249.9" y="277.0" width="10.0" height="22.0" fill="rgb(116,90,72)"/><rect x="259.5" y="277.0" width="10.0" height="22.0" fill="rgb(116,90,72)"/><rect x="269.0" y="277.0" width="22.0" height="22.0" fill="rgb(90,75,62)"/></g></g>
<rect x="50" y="30" width="229" height="257" filter="url(#texA)" style="mix-blend-mode:overlay" opacity="0.25"/>
<g clip-path="url(#clipA)"><path d="M167 29 L191 29 L189 40 L186 49 L183 54 L178 53 L174 47 L170 40 Z" fill="#120d0a" filter="url(#blurK)"/><ellipse cx="151.5" cy="261" rx="5" ry="4.5" fill="#4a3a2e" filter="url(#blurK)"/></g>
<g><circle cx="186.2" cy="52.9" r="3" fill="#ffe600"/><circle cx="184.5" cy="57.8" r="3" fill="#8c0000"/><circle cx="188.6" cy="64.4" r="2.8" fill="#1e64f0"/><circle cx="187.5" cy="61.4" r="3" fill="#ffe600"/><circle cx="203.4" cy="50" r="3" fill="#0a1eff"/><circle cx="225.8" cy="44.4" r="3.2" fill="#0a1eff"/><circle cx="232.8" cy="47.7" r="3" fill="#0a1eff"/><circle cx="236.1" cy="46.7" r="3" fill="#0a1eff"/><circle cx="159" cy="91.9" r="2.5" fill="#9a1010"/><circle cx="210.5" cy="101.7" r="3" fill="#ff1a00"/><circle cx="204.5" cy="105" r="3" fill="#8c0000"/><circle cx="208.3" cy="105.4" r="3" fill="#8c0000"/><circle cx="211.9" cy="106.5" r="2" fill="#ffe600"/><circle cx="196.8" cy="123.2" r="3.3" fill="#1e64f0"/><circle cx="198.6" cy="122.8" r="2.8" fill="#ff1a00"/><circle cx="165.4" cy="128.1" r="3" fill="#8c0000"/><circle cx="149.5" cy="135.5" r="3" fill="#8c0000"/><circle cx="204.1" cy="138.3" r="3" fill="#8c0000"/><circle cx="138.1" cy="141.4" r="2.7" fill="#8c0000"/><circle cx="136.3" cy="149.5" r="3" fill="#1e64f0"/><circle cx="134.5" cy="145" r="3" fill="#ff8c00"/><circle cx="194.5" cy="170.9" r="3" fill="#ff8c00"/><circle cx="203.1" cy="176" r="3" fill="#50f0a0"/><circle cx="195.8" cy="198.2" r="3" fill="#50f0a0"/><circle cx="190.9" cy="204.5" r="3" fill="#8c0000"/><circle cx="250.5" cy="214.2" r="3.2" fill="#0a1eff"/><circle cx="243.6" cy="216.9" r="3.5" fill="#0a1eff"/><circle cx="237.8" cy="218.2" r="2.7" fill="#8c0000"/><circle cx="231.8" cy="220" r="3" fill="#8c0000"/><circle cx="227.3" cy="225.8" r="3" fill="#8c0000"/><circle cx="267.7" cy="268.2" r="3.3" fill="#ff1a00"/><circle cx="261.4" cy="270" r="2.8" fill="#ff1a00"/><circle cx="252.7" cy="272.7" r="3" fill="#a00000"/><circle cx="255.5" cy="272.7" r="3" fill="#a00000"/></g>
<g transform="translate(311.2,29.9)"><use href="#fld" filter="url(#fB)"/></g>
<g transform="translate(180.2,398.3) scale(0.99825,1.00234)"><use href="#fld" filter="url(#fC)"/></g>
<line x1="101" y1="30" x2="101" y2="286.5" stroke="#f4f0ea" stroke-width="1.6"/>
<line x1="159" y1="30" x2="159" y2="286.5" stroke="#f4f0ea" stroke-width="1.6"/>
<line x1="217" y1="30" x2="217" y2="286.5" stroke="#f4f0ea" stroke-width="1.6"/>
<line x1="274.9" y1="30" x2="274.9" y2="286.5" stroke="#f4f0ea" stroke-width="1.6"/>
<line x1="50" y1="41" x2="278.5" y2="41" stroke="#f4f0ea" stroke-width="1.6"/>
<line x1="50" y1="98.8" x2="278.5" y2="98.8" stroke="#f4f0ea" stroke-width="1.6"/>
<line x1="50" y1="156.7" x2="278.5" y2="156.7" stroke="#f4f0ea" stroke-width="1.6"/>
<line x1="50" y1="214.6" x2="278.5" y2="214.6" stroke="#f4f0ea" stroke-width="1.6"/>
<line x1="50" y1="272.6" x2="278.5" y2="272.6" stroke="#f4f0ea" stroke-width="1.6"/>
<line x1="360.8" y1="29.9" x2="360.8" y2="286.6" stroke="#f4f0ea" stroke-width="1.6"/>
<line x1="418.8" y1="29.9" x2="418.8" y2="286.6" stroke="#f4f0ea" stroke-width="1.6"/>
<line x1="477" y1="29.9" x2="477" y2="286.6" stroke="#f4f0ea" stroke-width="1.6"/>
<line x1="534.8" y1="29.9" x2="534.8" y2="286.6" stroke="#f4f0ea" stroke-width="1.6"/>
<line x1="311.2" y1="41" x2="540" y2="41" stroke="#f4f0ea" stroke-width="1.6"/>
<line x1="311.2" y1="98.7" x2="540" y2="98.7" stroke="#f4f0ea" stroke-width="1.6"/>
<line x1="311.2" y1="156.7" x2="540" y2="156.7" stroke="#f4f0ea" stroke-width="1.6"/>
<line x1="311.2" y1="214.6" x2="540" y2="214.6" stroke="#f4f0ea" stroke-width="1.6"/>
<line x1="311.2" y1="272.6" x2="540" y2="272.6" stroke="#f4f0ea" stroke-width="1.6"/>
<line x1="232" y1="398.3" x2="232" y2="655.6" stroke="#f4f0ea" stroke-width="1.6"/>
<line x1="289" y1="398.3" x2="289" y2="655.6" stroke="#f4f0ea" stroke-width="1.6"/>
<line x1="347.1" y1="398.3" x2="347.1" y2="655.6" stroke="#f4f0ea" stroke-width="1.6"/>
<line x1="405.6" y1="398.3" x2="405.6" y2="655.6" stroke="#f4f0ea" stroke-width="1.6"/>
<line x1="180.2" y1="410" x2="408.6" y2="410" stroke="#f4f0ea" stroke-width="1.6"/>
<line x1="180.2" y1="467.5" x2="408.6" y2="467.5" stroke="#f4f0ea" stroke-width="1.6"/>
<line x1="180.2" y1="525.6" x2="408.6" y2="525.6" stroke="#f4f0ea" stroke-width="1.6"/>
<line x1="180.2" y1="583.6" x2="408.6" y2="583.6" stroke="#f4f0ea" stroke-width="1.6"/>
<line x1="180.2" y1="641.8" x2="408.6" y2="641.8" stroke="#f4f0ea" stroke-width="1.6"/>
<rect x="50.75" y="30.75" width="227.0" height="255.0" fill="none" stroke="#111" stroke-width="1.5"/>
<rect x="311.8" y="30.5" width="227.60000000000002" height="255.50000000000006" fill="none" stroke="#111" stroke-width="1.2"/>
<rect x="180.75" y="398.85" width="227.30000000000004" height="256.2" fill="none" stroke="#0a0a50" stroke-width="1.1"/>
<rect x="406.6" y="399.3" width="1.2" height="255.3" fill="#1e5ae6"/>
<text x="51" y="12.2" font-size="12" font-weight="bold" font-style="normal" text-anchor="start" fill="#1c1c1c" stroke="#1c1c1c" stroke-width="0.2">(a)</text>
<text x="309.1" y="13" font-size="12" font-weight="bold" font-style="normal" text-anchor="start" fill="#1c1c1c" stroke="#1c1c1c" stroke-width="0.2">(b)</text>
<text x="180.8" y="384.8" font-size="12" font-weight="bold" font-style="normal" text-anchor="start" fill="#1c1c1c" stroke="#1c1c1c" stroke-width="0.2">(c)</text>
<text x="74.4" y="21" font-size="11" font-weight="normal" font-style="normal" text-anchor="start" fill="#1c1c1c" stroke="#1c1c1c" stroke-width="0.3">67.3° W</text>
<text x="132.6" y="21" font-size="11" font-weight="normal" font-style="normal" text-anchor="start" fill="#1c1c1c" stroke="#1c1c1c" stroke-width="0.3">67.15° W</text>
<text x="201.6" y="21" font-size="11" font-weight="normal" font-style="normal" text-anchor="start" fill="#1c1c1c" stroke="#1c1c1c" stroke-width="0.3">67° W</text>
<text x="252.4" y="21" font-size="11" font-weight="normal" font-style="normal" text-anchor="start" fill="#1c1c1c" stroke="#1c1c1c" stroke-width="0.3">66.85° W</text>
<text x="45.5" y="41" font-size="11" font-weight="normal" font-style="normal" text-anchor="end" fill="#1c1c1c" stroke="#1c1c1c" stroke-width="0.3">18.15° S</text>
<text x="45.5" y="98.8" font-size="11" font-weight="normal" font-style="normal" text-anchor="end" fill="#1c1c1c" stroke="#1c1c1c" stroke-width="0.3">18.3° S</text>
<text x="45.5" y="156.7" font-size="11" font-weight="normal" font-style="normal" text-anchor="end" fill="#1c1c1c" stroke="#1c1c1c" stroke-width="0.3">18.45° S</text>
<text x="45.5" y="214.8" font-size="11" font-weight="normal" font-style="normal" text-anchor="end" fill="#1c1c1c" stroke="#1c1c1c" stroke-width="0.3">18.6° S</text>
<text x="45.5" y="272.6" font-size="11" font-weight="normal" font-style="normal" text-anchor="end" fill="#1c1c1c" stroke="#1c1c1c" stroke-width="0.3">18.75° S</text>
<rect x="48.40" y="313.6" width="55.53" height="15.6" fill="#0000f5"/>
<text x="73.3" y="348.4" font-size="11.7" font-weight="normal" font-style="normal" text-anchor="middle" fill="#1c1c1c" stroke="#1c1c1c" stroke-width="0.3">[0-2]</text>
<rect x="103.63" y="313.6" width="55.53" height="15.6" fill="#1464f5"/>
<line x1="103.63" y1="329" x2="103.63" y2="334" stroke="#222" stroke-width="1"/>
<text x="129.5" y="348.4" font-size="11.7" font-weight="normal" font-style="normal" text-anchor="middle" fill="#1c1c1c" stroke="#1c1c1c" stroke-width="0.3">[2-4]</text>
<rect x="158.86" y="313.6" width="55.53" height="15.6" fill="#14c8fa"/>
<line x1="158.86" y1="329" x2="158.86" y2="334" stroke="#222" stroke-width="1"/>
<text x="187.6" y="348.4" font-size="11.7" font-weight="normal" font-style="normal" text-anchor="middle" fill="#1c1c1c" stroke="#1c1c1c" stroke-width="0.3">[4-6]</text>
<rect x="214.09" y="313.6" width="55.53" height="15.6" fill="#64f0a0"/>
<line x1="214.09" y1="329" x2="214.09" y2="334" stroke="#222" stroke-width="1"/>
<text x="239.2" y="348.4" font-size="11.7" font-weight="normal" font-style="normal" text-anchor="middle" fill="#1c1c1c" stroke="#1c1c1c" stroke-width="0.3">[6-8]</text>
<rect x="269.32" y="313.6" width="55.53" height="15.6" fill="#a0f050"/>
<line x1="269.32" y1="329" x2="269.32" y2="334" stroke="#222" stroke-width="1"/>
<text x="295" y="348.4" font-size="11.7" font-weight="normal" font-style="normal" text-anchor="middle" fill="#1c1c1c" stroke="#1c1c1c" stroke-width="0.3">[8-10]</text>
<rect x="324.55" y="313.6" width="55.53" height="15.6" fill="#ffdc00"/>
<line x1="324.55" y1="329" x2="324.55" y2="334" stroke="#222" stroke-width="1"/>
<text x="351" y="348.4" font-size="11.7" font-weight="normal" font-style="normal" text-anchor="middle" fill="#1c1c1c" stroke="#1c1c1c" stroke-width="0.3">[10-12]</text>
<rect x="379.78" y="313.6" width="55.53" height="15.6" fill="#ff8000"/>
<line x1="379.78" y1="329" x2="379.78" y2="334" stroke="#222" stroke-width="1"/>
<text x="408.3" y="348.4" font-size="11.7" font-weight="normal" font-style="normal" text-anchor="middle" fill="#1c1c1c" stroke="#1c1c1c" stroke-width="0.3">[12-14]</text>
<rect x="435.01" y="313.6" width="55.53" height="15.6" fill="#ff1400"/>
<line x1="435.01" y1="329" x2="435.01" y2="334" stroke="#222" stroke-width="1"/>
<text x="463.1" y="348.4" font-size="11.7" font-weight="normal" font-style="normal" text-anchor="middle" fill="#1c1c1c" stroke="#1c1c1c" stroke-width="0.3">[14-16]</text>
<rect x="490.24" y="313.6" width="55.53" height="15.6" fill="#7d0000"/>
<line x1="490.24" y1="329" x2="490.24" y2="334" stroke="#222" stroke-width="1"/>
<text x="517.6" y="348.4" font-size="11.7" font-weight="normal" font-style="normal" text-anchor="middle" fill="#1c1c1c" stroke="#1c1c1c" stroke-width="0.3">[&gt;16]</text>
<text x="193" y="308.3" font-size="13.3" font-weight="normal" font-style="normal" text-anchor="start" fill="#1c1c1c" stroke="#1c1c1c" stroke-width="0.3">Reorganized soil salinity classes</text>
<text x="251.2" y="371.1" font-size="12" fill="#1c1c1c" stroke="#1c1c1c" stroke-width="0.3">EC (mS.cm<tspan font-size="6.5" dy="-5">-1</tspan><tspan dy="5">)</tspan></text>
<rect x="153.60" y="680.6" width="55.40" height="15.4" fill="#2850f0"/>
<text x="182" y="712.4" font-size="11.7" font-weight="normal" font-style="normal" text-anchor="middle" fill="#1c1c1c" stroke="#1c1c1c" stroke-width="0.3">[0-2]</text>
<text x="181.8" y="724.4" font-size="10.7" font-weight="normal" font-style="italic" text-anchor="middle" fill="#1c1c1c" stroke="#1c1c1c" stroke-width="0.25">Non Saline</text>
<rect x="208.70" y="680.6" width="55.40" height="15.4" fill="#5af0d2"/>
<line x1="208.70" y1="696" x2="208.70" y2="701" stroke="#222" stroke-width="1"/>
<text x="239" y="712.4" font-size="11.7" font-weight="normal" font-style="normal" text-anchor="middle" fill="#1c1c1c" stroke="#1c1c1c" stroke-width="0.3">[2-4]</text>
<text x="239.2" y="724.4" font-size="10.7" font-weight="normal" font-style="italic" text-anchor="middle" fill="#1c1c1c" stroke="#1c1c1c" stroke-width="0.25">Slightly</text>
<text x="239.2" y="737.6" font-size="10.7" font-weight="normal" font-style="italic" text-anchor="middle" fill="#1c1c1c" stroke="#1c1c1c" stroke-width="0.25">Saline</text>
<rect x="263.80" y="680.6" width="55.40" height="15.4" fill="#d2f00a"/>
<line x1="263.80" y1="696" x2="263.80" y2="701" stroke="#222" stroke-width="1"/>
<text x="295" y="712.4" font-size="11.7" font-weight="normal" font-style="normal" text-anchor="middle" fill="#1c1c1c" stroke="#1c1c1c" stroke-width="0.3">[4-8]</text>
<text x="295" y="724.4" font-size="10.7" font-weight="normal" font-style="italic" text-anchor="middle" fill="#1c1c1c" stroke="#1c1c1c" stroke-width="0.25">Moderately</text>
<text x="295" y="737.6" font-size="10.7" font-weight="normal" font-style="italic" text-anchor="middle" fill="#1c1c1c" stroke="#1c1c1c" stroke-width="0.25">Saline</text>
<rect x="318.90" y="680.6" width="55.40" height="15.4" fill="#ff6e0a"/>
<line x1="318.90" y1="696" x2="318.90" y2="701" stroke="#222" stroke-width="1"/>
<text x="349.8" y="712.4" font-size="11.7" font-weight="normal" font-style="normal" text-anchor="middle" fill="#1c1c1c" stroke="#1c1c1c" stroke-width="0.3">[8-16]</text>
<text x="350.1" y="724.4" font-size="10.7" font-weight="normal" font-style="italic" text-anchor="middle" fill="#1c1c1c" stroke="#1c1c1c" stroke-width="0.25">Strongly</text>
<text x="350.1" y="737.6" font-size="10.7" font-weight="normal" font-style="italic" text-anchor="middle" fill="#1c1c1c" stroke="#1c1c1c" stroke-width="0.25">Saline</text>
<rect x="374.00" y="680.6" width="55.40" height="15.4" fill="#800000"/>
<line x1="374.00" y1="696" x2="374.00" y2="701" stroke="#222" stroke-width="1"/>
<text x="404.8" y="712.4" font-size="11.7" font-weight="normal" font-style="normal" text-anchor="middle" fill="#1c1c1c" stroke="#1c1c1c" stroke-width="0.3">[&gt;16]</text>
<text x="405" y="724.4" font-size="10.7" font-weight="normal" font-style="italic" text-anchor="middle" fill="#1c1c1c" stroke="#1c1c1c" stroke-width="0.25">Extremely</text>
<text x="405" y="737.6" font-size="10.7" font-weight="normal" font-style="italic" text-anchor="middle" fill="#1c1c1c" stroke="#1c1c1c" stroke-width="0.25">Saline</text>
<text x="216.6" y="676" font-size="13.4" font-weight="normal" font-style="normal" text-anchor="start" fill="#1c1c1c" stroke="#1c1c1c" stroke-width="0.3">FAO soil salinity classes</text>
<text x="260" y="759" font-size="12" fill="#1c1c1c" stroke="#1c1c1c" stroke-width="0.3">EC (mS.cm<tspan font-size="6.5" dy="-5">-1</tspan><tspan dy="5">)</tspan></text></svg></body></html>
